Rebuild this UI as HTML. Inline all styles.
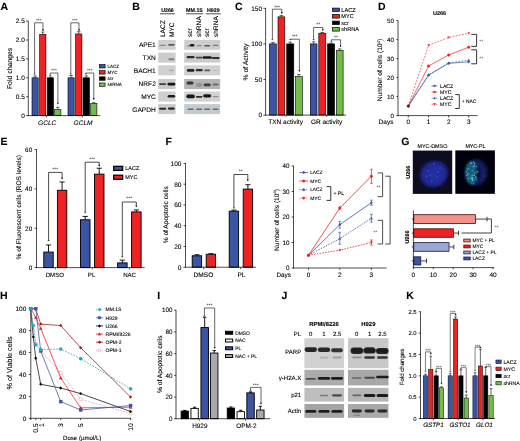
<!DOCTYPE html>
<html><head><meta charset="utf-8"><title>Figure</title>
<style>html,body{margin:0;padding:0;background:#fff}svg{display:block}text{font-family:"Liberation Sans",sans-serif;stroke:#000;stroke-width:0.1px;text-rendering:geometricPrecision}text.st{stroke:none}</style>
</head><body>
<svg width="520" height="441" viewBox="0 0 520 441">
<defs>
<filter id="soft" x="0" y="0" width="520" height="441" filterUnits="userSpaceOnUse"><feGaussianBlur stdDeviation="0.3"/></filter>
<filter id="b1" x="-30%" y="-80%" width="160%" height="260%"><feGaussianBlur stdDeviation="0.55"/></filter>
<filter id="b15" x="-30%" y="-80%" width="160%" height="260%"><feGaussianBlur stdDeviation="0.75"/></filter>
<filter id="b05" x="-50%" y="-50%" width="200%" height="200%"><feGaussianBlur stdDeviation="0.35"/></filter>
<filter id="b2" x="-20%" y="-20%" width="140%" height="140%"><feGaussianBlur stdDeviation="0.9"/></filter>
<filter id="bl" x="-5%" y="-5%" width="110%" height="110%"><feGaussianBlur stdDeviation="0.3"/></filter>
<radialGradient id="nuc1" cx="50%" cy="50%" r="50%"><stop offset="0" stop-color="#2630a6"/><stop offset="0.7" stop-color="#212a98"/><stop offset="1" stop-color="#171a66"/></radialGradient>
<radialGradient id="nuc2" cx="45%" cy="50%" r="50%"><stop offset="0" stop-color="#161f6e"/><stop offset="0.75" stop-color="#141b60"/><stop offset="1" stop-color="#0a0e38"/></radialGradient>
</defs>
<rect width="520" height="441" fill="#fff"/>
<g filter="url(#soft)">
<text x="0.40" y="9.60" font-size="10.5" font-weight="bold" fill="#000" >A</text>
<line x1="35.10" y1="75.91" x2="35.10" y2="77.80" stroke="#000" stroke-width="0.6" />
<line x1="33.30" y1="75.91" x2="36.90" y2="75.91" stroke="#000" stroke-width="0.6" />
<rect x="32.00" y="77.80" width="6.20" height="37.80" fill="#3b54a4" stroke="#000" stroke-width="0.6" />
<line x1="42.80" y1="32.06" x2="42.80" y2="34.33" stroke="#000" stroke-width="0.6" />
<line x1="41.00" y1="32.06" x2="44.60" y2="32.06" stroke="#000" stroke-width="0.6" />
<rect x="39.70" y="34.33" width="6.20" height="81.27" fill="#ed2024" stroke="#000" stroke-width="0.6" />
<line x1="50.40" y1="77.04" x2="50.40" y2="77.80" stroke="#000" stroke-width="0.6" />
<line x1="48.60" y1="77.04" x2="52.20" y2="77.04" stroke="#000" stroke-width="0.6" />
<rect x="47.30" y="77.80" width="6.20" height="37.80" fill="#000" stroke="#000" stroke-width="0.6" />
<line x1="57.80" y1="107.28" x2="57.80" y2="109.55" stroke="#000" stroke-width="0.6" />
<line x1="56.00" y1="107.28" x2="59.60" y2="107.28" stroke="#000" stroke-width="0.6" />
<rect x="54.70" y="109.55" width="6.20" height="6.05" fill="#6fbe44" stroke="#000" stroke-width="0.6" />
<line x1="71.10" y1="75.53" x2="71.10" y2="77.80" stroke="#000" stroke-width="0.6" />
<line x1="69.30" y1="75.53" x2="72.90" y2="75.53" stroke="#000" stroke-width="0.6" />
<rect x="68.00" y="77.80" width="6.20" height="37.80" fill="#3b54a4" stroke="#000" stroke-width="0.6" />
<line x1="78.75" y1="31.68" x2="78.75" y2="33.95" stroke="#000" stroke-width="0.6" />
<line x1="76.95" y1="31.68" x2="80.55" y2="31.68" stroke="#000" stroke-width="0.6" />
<rect x="75.60" y="33.95" width="6.30" height="81.65" fill="#ed2024" stroke="#000" stroke-width="0.6" />
<line x1="86.25" y1="75.91" x2="86.25" y2="77.80" stroke="#000" stroke-width="0.6" />
<line x1="84.45" y1="75.91" x2="88.05" y2="75.91" stroke="#000" stroke-width="0.6" />
<rect x="83.00" y="77.80" width="6.50" height="37.80" fill="#000" stroke="#000" stroke-width="0.6" />
<line x1="93.80" y1="102.75" x2="93.80" y2="103.50" stroke="#000" stroke-width="0.6" />
<line x1="92.00" y1="102.75" x2="95.60" y2="102.75" stroke="#000" stroke-width="0.6" />
<rect x="90.70" y="103.50" width="6.20" height="12.10" fill="#6fbe44" stroke="#000" stroke-width="0.6" />
<line x1="27.95" y1="115.60" x2="100.20" y2="115.60" stroke="#000" stroke-width="0.7" />
<line x1="28.30" y1="20.80" x2="28.30" y2="115.95" stroke="#000" stroke-width="0.7" />
<line x1="26.10" y1="115.60" x2="28.30" y2="115.60" stroke="#000" stroke-width="0.7" />
<text x="24.80" y="117.94" font-size="6.5" text-anchor="end" fill="#000" >0</text>
<line x1="26.10" y1="96.70" x2="28.30" y2="96.70" stroke="#000" stroke-width="0.7" />
<text x="24.80" y="99.04" font-size="6.5" text-anchor="end" fill="#000" >0.5</text>
<line x1="26.10" y1="77.80" x2="28.30" y2="77.80" stroke="#000" stroke-width="0.7" />
<text x="24.80" y="80.14" font-size="6.5" text-anchor="end" fill="#000" >1.0</text>
<line x1="26.10" y1="58.90" x2="28.30" y2="58.90" stroke="#000" stroke-width="0.7" />
<text x="24.80" y="61.24" font-size="6.5" text-anchor="end" fill="#000" >1.5</text>
<line x1="26.10" y1="40.00" x2="28.30" y2="40.00" stroke="#000" stroke-width="0.7" />
<text x="24.80" y="42.34" font-size="6.5" text-anchor="end" fill="#000" >2.0</text>
<line x1="26.10" y1="21.10" x2="28.30" y2="21.10" stroke="#000" stroke-width="0.7" />
<text x="24.80" y="23.44" font-size="6.5" text-anchor="end" fill="#000" >2.5</text>
<text x="12.50" y="68.40" font-size="6.9" text-anchor="middle" fill="#000" transform="rotate(-90 12.50 68.40)" >Fold changes</text>
<text x="47.20" y="124.80" font-size="6.6" text-anchor="middle" font-style="italic" fill="#000" >GCLC</text>
<line x1="46.50" y1="115.60" x2="46.50" y2="117.30" stroke="#000" stroke-width="0.7" />
<line x1="82.50" y1="115.60" x2="82.50" y2="117.30" stroke="#000" stroke-width="0.7" />
<text x="83.10" y="124.80" font-size="6.6" text-anchor="middle" font-style="italic" fill="#000" >GCLM</text>
<polyline points="34.60,74.02 34.60,22.80 43.00,22.80 43.00,30.93" fill="none" stroke="#000" stroke-width="0.6" stroke-linejoin="round"/>
<polygon points="42.10,29.33 43.90,29.33 43.00,30.93" fill="#000"/>
<line x1="33.70" y1="74.02" x2="35.50" y2="74.02" stroke="#000" stroke-width="0.6" />
<text x="38.80" y="21.80" font-size="4.8" text-anchor="middle" fill="#111" class="st">***</text>
<polyline points="50.20,75.53 50.20,73.00 57.90,73.00 57.90,104.26" fill="none" stroke="#000" stroke-width="0.6" stroke-linejoin="round"/>
<polygon points="57.00,102.66 58.80,102.66 57.90,104.26" fill="#000"/>
<line x1="49.30" y1="75.53" x2="51.10" y2="75.53" stroke="#000" stroke-width="0.6" />
<text x="54.05" y="71.70" font-size="4.8" text-anchor="middle" fill="#111" class="st">***</text>
<polyline points="70.80,74.02 70.80,22.80 79.00,22.80 79.00,30.93" fill="none" stroke="#000" stroke-width="0.6" stroke-linejoin="round"/>
<polygon points="78.10,29.33 79.90,29.33 79.00,30.93" fill="#000"/>
<line x1="69.90" y1="74.02" x2="71.70" y2="74.02" stroke="#000" stroke-width="0.6" />
<text x="74.90" y="21.80" font-size="4.8" text-anchor="middle" fill="#111" class="st">***</text>
<polyline points="85.80,74.02 85.80,73.00 93.80,73.00 93.80,99.72" fill="none" stroke="#000" stroke-width="0.6" stroke-linejoin="round"/>
<polygon points="92.90,98.12 94.70,98.12 93.80,99.72" fill="#000"/>
<line x1="84.90" y1="74.02" x2="86.70" y2="74.02" stroke="#000" stroke-width="0.6" />
<text x="89.80" y="71.70" font-size="4.8" text-anchor="middle" fill="#111" class="st">***</text>
<rect x="99.40" y="64.50" width="5.70" height="3.50" fill="#3b54a4" stroke="#000" stroke-width="0.6" />
<text x="107.60" y="67.87" font-size="4.5" fill="#000" >LACZ</text>
<rect x="99.40" y="70.65" width="5.70" height="3.50" fill="#ed2024" stroke="#000" stroke-width="0.6" />
<text x="107.60" y="74.02" font-size="4.5" fill="#000" >MYC</text>
<rect x="99.40" y="76.80" width="5.70" height="3.50" fill="#000" stroke="#000" stroke-width="0.6" />
<text x="107.60" y="80.17" font-size="4.5" fill="#000" >scr</text>
<rect x="99.40" y="82.95" width="5.70" height="3.50" fill="#6fbe44" stroke="#000" stroke-width="0.6" />
<text x="107.60" y="86.32" font-size="4.5" fill="#000" >shRNA</text>
<text x="132.20" y="9.60" font-size="10.5" font-weight="bold" fill="#000" >B</text>
<text x="167.50" y="11.60" font-size="5.3" text-anchor="middle" font-weight="bold" fill="#000" >U266</text>
<line x1="160.00" y1="13.80" x2="174.90" y2="13.80" stroke="#000" stroke-width="0.7" />
<text x="194.50" y="11.60" font-size="5.3" text-anchor="middle" font-weight="bold" fill="#000" >MM.1S</text>
<line x1="186.00" y1="13.80" x2="203.20" y2="13.80" stroke="#000" stroke-width="0.7" />
<text x="213.30" y="11.60" font-size="5.3" text-anchor="middle" font-weight="bold" fill="#000" >H929</text>
<line x1="205.70" y1="13.80" x2="220.80" y2="13.80" stroke="#000" stroke-width="0.7" />
<text x="165.40" y="37.10" font-size="6.6" fill="#000" transform="rotate(-90 165.40 37.10)" >LACZ</text>
<text x="174.30" y="37.10" font-size="6.6" fill="#000" transform="rotate(-90 174.30 37.10)" >MYC</text>
<text x="191.60" y="37.10" font-size="6.6" fill="#000" transform="rotate(-90 191.60 37.10)" >scr</text>
<text x="200.80" y="37.10" font-size="6.6" fill="#000" transform="rotate(-90 200.80 37.10)" >shRNA</text>
<text x="208.60" y="37.10" font-size="6.6" fill="#000" transform="rotate(-90 208.60 37.10)" >scr</text>
<text x="218.50" y="37.10" font-size="6.6" fill="#000" transform="rotate(-90 218.50 37.10)" >shRNA</text>
<text x="155.80" y="47.30" font-size="6.6" text-anchor="end" fill="#000" >APE1</text>
<text x="155.80" y="60.00" font-size="6.6" text-anchor="end" fill="#000" >TXN</text>
<text x="155.80" y="72.75" font-size="6.6" text-anchor="end" fill="#000" >BACH1</text>
<text x="155.80" y="86.45" font-size="6.6" text-anchor="end" fill="#000" >NRF2</text>
<text x="155.80" y="98.95" font-size="6.6" text-anchor="end" fill="#000" >MYC</text>
<text x="155.80" y="111.50" font-size="6.6" text-anchor="end" fill="#000" >GAPDH</text>
<g filter="url(#bl)">
<rect x="158.20" y="40.00" width="17.40" height="9.80" fill="#cfcfcf" />
<rect x="184.20" y="40.00" width="36.00" height="9.80" fill="#cdcdcd" />
<rect x="158.20" y="52.60" width="17.40" height="10.00" fill="#cdcdcd" />
<rect x="184.20" y="52.60" width="36.00" height="10.00" fill="#cbcbcb" />
<rect x="158.20" y="65.30" width="17.40" height="10.10" fill="#d0d0d0" />
<rect x="184.20" y="65.30" width="36.00" height="10.10" fill="#d0d0d0" />
<rect x="158.20" y="79.00" width="17.40" height="10.10" fill="#c9c9c9" />
<rect x="184.20" y="79.00" width="36.00" height="10.10" fill="#b4b4b6" />
<rect x="158.20" y="91.50" width="17.40" height="10.10" fill="#cfcfcf" />
<rect x="184.20" y="91.50" width="36.00" height="10.10" fill="#d2d2d2" />
<rect x="158.20" y="104.10" width="17.40" height="10.00" fill="#cbcbcb" />
<rect x="184.20" y="104.10" width="36.00" height="10.00" fill="#c4cbd0" />
</g>
<rect x="159.35" y="44.65" width="6.50" height="1.30" rx="0.65" fill="#0a0a0a" opacity="0.35" filter="url(#b1)"/>
<rect x="168.15" y="43.90" width="6.50" height="1.80" rx="0.90" fill="#0a0a0a" opacity="0.6" filter="url(#b1)"/>
<rect x="189.85" y="44.00" width="4.50" height="2.40" rx="1.20" fill="#0a0a0a" opacity="0.9" filter="url(#b1)"/>
<rect x="187.10" y="45.20" width="3.00" height="1.20" rx="0.60" fill="#0a0a0a" opacity="0.4" filter="url(#b1)"/>
<rect x="196.70" y="44.95" width="5.00" height="1.30" rx="0.65" fill="#0a0a0a" opacity="0.35" filter="url(#b1)"/>
<rect x="204.20" y="45.00" width="6.00" height="1.60" rx="0.80" fill="#0a0a0a" opacity="0.6" filter="url(#b1)"/>
<rect x="212.85" y="44.75" width="5.50" height="1.30" rx="0.65" fill="#0a0a0a" opacity="0.45" filter="url(#b1)"/>
<rect x="168.40" y="58.30" width="6.00" height="2.00" rx="1.00" fill="#0a0a0a" opacity="0.4" filter="url(#b1)"/>
<rect x="186.60" y="56.10" width="8.00" height="2.20" rx="1.10" fill="#0a0a0a" opacity="0.85" filter="url(#b1)"/>
<rect x="195.70" y="56.80" width="7.00" height="1.60" rx="0.80" fill="#0a0a0a" opacity="0.7" filter="url(#b1)"/>
<rect x="202.70" y="56.30" width="9.00" height="2.40" rx="1.20" fill="#0a0a0a" opacity="0.95" filter="url(#b1)"/>
<rect x="211.60" y="57.10" width="8.00" height="1.80" rx="0.90" fill="#0a0a0a" opacity="0.8" filter="url(#b1)"/>
<rect x="168.90" y="69.70" width="5.00" height="1.20" rx="0.60" fill="#0a0a0a" opacity="0.2" filter="url(#b1)"/>
<rect x="186.85" y="69.10" width="7.50" height="2.60" rx="1.30" fill="#0a0a0a" opacity="0.9" filter="url(#b1)"/>
<rect x="195.70" y="69.10" width="7.00" height="2.20" rx="1.10" fill="#0a0a0a" opacity="0.85" filter="url(#b1)"/>
<rect x="204.20" y="69.60" width="6.00" height="1.60" rx="0.80" fill="#0a0a0a" opacity="0.6" filter="url(#b1)"/>
<rect x="213.60" y="69.90" width="4.00" height="1.20" rx="0.60" fill="#0a0a0a" opacity="0.12" filter="url(#b1)"/>
<rect x="159.10" y="83.30" width="7.00" height="1.60" rx="0.80" fill="#0a0a0a" opacity="0.75" filter="url(#b1)"/>
<rect x="167.40" y="82.70" width="8.00" height="2.80" rx="1.40" fill="#0a0a0a" opacity="0.95" filter="url(#b1)"/>
<rect x="186.50" y="81.40" width="7.00" height="3.20" rx="1.60" fill="#0a0a0a" opacity="0.75" filter="url(#b1)"/>
<rect x="195.95" y="83.00" width="6.50" height="4.00" rx="2.00" fill="#0a0a0a" opacity="0.18" filter="url(#b1)"/>
<rect x="203.70" y="83.60" width="7.00" height="2.60" rx="1.30" fill="#0a0a0a" opacity="0.7" filter="url(#b1)"/>
<rect x="212.60" y="83.40" width="6.00" height="2.20" rx="1.10" fill="#0a0a0a" opacity="0.42" filter="url(#b1)"/>
<rect x="167.65" y="95.00" width="7.50" height="2.60" rx="1.30" fill="#0a0a0a" opacity="0.9" filter="url(#b1)"/>
<rect x="186.35" y="94.60" width="8.50" height="3.60" rx="1.80" fill="#0a0a0a" opacity="0.95" filter="url(#b1)"/>
<rect x="195.95" y="95.90" width="6.50" height="1.80" rx="0.90" fill="#0a0a0a" opacity="0.85" filter="url(#b1)"/>
<rect x="203.20" y="94.20" width="8.00" height="3.20" rx="1.60" fill="#0a0a0a" opacity="0.95" filter="url(#b1)"/>
<rect x="212.60" y="96.00" width="6.00" height="1.20" rx="0.60" fill="#0a0a0a" opacity="0.3" filter="url(#b1)"/>
<rect x="159.10" y="107.80" width="7.00" height="2.00" rx="1.00" fill="#0a0a0a" opacity="0.85" filter="url(#b1)"/>
<rect x="167.90" y="107.50" width="7.00" height="2.20" rx="1.10" fill="#0a0a0a" opacity="0.85" filter="url(#b1)"/>
<rect x="187.60" y="108.50" width="6.00" height="1.60" rx="0.80" fill="#0a0a0a" opacity="0.5" filter="url(#b1)"/>
<rect x="196.20" y="108.50" width="6.00" height="1.60" rx="0.80" fill="#0a0a0a" opacity="0.5" filter="url(#b1)"/>
<rect x="204.20" y="108.50" width="6.00" height="1.60" rx="0.80" fill="#0a0a0a" opacity="0.5" filter="url(#b1)"/>
<rect x="212.60" y="108.50" width="6.00" height="1.60" rx="0.80" fill="#0a0a0a" opacity="0.5" filter="url(#b1)"/>
<text x="235.00" y="9.60" font-size="10.5" font-weight="bold" fill="#000" >C</text>
<line x1="272.90" y1="42.48" x2="272.90" y2="43.90" stroke="#000" stroke-width="0.6" />
<line x1="271.10" y1="42.48" x2="274.70" y2="42.48" stroke="#000" stroke-width="0.6" />
<rect x="269.50" y="43.90" width="6.80" height="71.20" fill="#3b54a4" stroke="#000" stroke-width="0.6" />
<line x1="281.40" y1="15.42" x2="281.40" y2="16.84" stroke="#000" stroke-width="0.6" />
<line x1="279.60" y1="15.42" x2="283.20" y2="15.42" stroke="#000" stroke-width="0.6" />
<rect x="278.00" y="16.84" width="6.80" height="98.26" fill="#ed2024" stroke="#000" stroke-width="0.6" />
<line x1="290.25" y1="42.12" x2="290.25" y2="43.90" stroke="#000" stroke-width="0.6" />
<line x1="288.45" y1="42.12" x2="292.05" y2="42.12" stroke="#000" stroke-width="0.6" />
<rect x="286.70" y="43.90" width="7.10" height="71.20" fill="#000" stroke="#000" stroke-width="0.6" />
<line x1="298.90" y1="74.52" x2="298.90" y2="76.65" stroke="#000" stroke-width="0.6" />
<line x1="297.10" y1="74.52" x2="300.70" y2="74.52" stroke="#000" stroke-width="0.6" />
<rect x="295.50" y="76.65" width="6.80" height="38.45" fill="#6fbe44" stroke="#000" stroke-width="0.6" />
<line x1="313.65" y1="41.76" x2="313.65" y2="43.90" stroke="#000" stroke-width="0.6" />
<line x1="311.85" y1="41.76" x2="315.45" y2="41.76" stroke="#000" stroke-width="0.6" />
<rect x="310.30" y="43.90" width="6.70" height="71.20" fill="#3b54a4" stroke="#000" stroke-width="0.6" />
<line x1="322.30" y1="32.51" x2="322.30" y2="33.22" stroke="#000" stroke-width="0.6" />
<line x1="320.50" y1="32.51" x2="324.10" y2="32.51" stroke="#000" stroke-width="0.6" />
<rect x="318.80" y="33.22" width="7.00" height="81.88" fill="#ed2024" stroke="#000" stroke-width="0.6" />
<line x1="331.05" y1="43.19" x2="331.05" y2="43.90" stroke="#000" stroke-width="0.6" />
<line x1="329.25" y1="43.19" x2="332.85" y2="43.19" stroke="#000" stroke-width="0.6" />
<rect x="327.50" y="43.90" width="7.10" height="71.20" fill="#000" stroke="#000" stroke-width="0.6" />
<line x1="339.70" y1="48.88" x2="339.70" y2="50.31" stroke="#000" stroke-width="0.6" />
<line x1="337.90" y1="48.88" x2="341.50" y2="48.88" stroke="#000" stroke-width="0.6" />
<rect x="336.30" y="50.31" width="6.80" height="64.79" fill="#6fbe44" stroke="#000" stroke-width="0.6" />
<line x1="265.25" y1="115.10" x2="346.00" y2="115.10" stroke="#000" stroke-width="0.7" />
<line x1="265.60" y1="8.00" x2="265.60" y2="115.45" stroke="#000" stroke-width="0.7" />
<line x1="263.40" y1="115.10" x2="265.60" y2="115.10" stroke="#000" stroke-width="0.7" />
<text x="262.10" y="117.44" font-size="6.5" text-anchor="end" fill="#000" >0</text>
<line x1="263.40" y1="79.50" x2="265.60" y2="79.50" stroke="#000" stroke-width="0.7" />
<text x="262.10" y="81.84" font-size="6.5" text-anchor="end" fill="#000" >50</text>
<line x1="263.40" y1="43.90" x2="265.60" y2="43.90" stroke="#000" stroke-width="0.7" />
<text x="262.10" y="46.24" font-size="6.5" text-anchor="end" fill="#000" >100</text>
<line x1="263.40" y1="8.30" x2="265.60" y2="8.30" stroke="#000" stroke-width="0.7" />
<text x="262.10" y="10.64" font-size="6.5" text-anchor="end" fill="#000" >150</text>
<text x="248.40" y="62.00" font-size="6.85" text-anchor="middle" fill="#000" transform="rotate(-90 248.40 62.00)" >% of Activity</text>
<text x="285.60" y="124.40" font-size="6.5" text-anchor="middle" fill="#000" >TXN activity</text>
<line x1="285.90" y1="115.10" x2="285.90" y2="116.80" stroke="#000" stroke-width="0.7" />
<line x1="326.70" y1="115.10" x2="326.70" y2="116.80" stroke="#000" stroke-width="0.7" />
<text x="326.60" y="124.40" font-size="6.5" text-anchor="middle" fill="#000" >GR activity</text>
<polyline points="272.40,39.63 272.40,9.20 281.80,9.20 281.80,13.64" fill="none" stroke="#000" stroke-width="0.6" stroke-linejoin="round"/>
<polygon points="280.90,12.04 282.70,12.04 281.80,13.64" fill="#000"/>
<line x1="271.50" y1="39.63" x2="273.30" y2="39.63" stroke="#000" stroke-width="0.6" />
<text x="277.10" y="8.50" font-size="5" text-anchor="middle" fill="#111" class="st">***</text>
<polyline points="290.20,39.63 290.20,39.20 299.40,39.20 299.40,71.67" fill="none" stroke="#000" stroke-width="0.6" stroke-linejoin="round"/>
<polygon points="298.50,70.07 300.30,70.07 299.40,71.67" fill="#000"/>
<line x1="289.30" y1="39.63" x2="291.10" y2="39.63" stroke="#000" stroke-width="0.6" />
<text x="294.80" y="37.60" font-size="5" text-anchor="middle" fill="#111" class="st">***</text>
<polyline points="313.60,39.63 313.60,27.50 322.80,27.50 322.80,30.73" fill="none" stroke="#000" stroke-width="0.6" stroke-linejoin="round"/>
<polygon points="321.90,29.13 323.70,29.13 322.80,30.73" fill="#000"/>
<line x1="312.70" y1="39.63" x2="314.50" y2="39.63" stroke="#000" stroke-width="0.6" />
<text x="318.20" y="26.10" font-size="5" text-anchor="middle" fill="#111" class="st">**</text>
<polyline points="331.40,41.76 331.40,39.80 340.60,39.80 340.60,47.10" fill="none" stroke="#000" stroke-width="0.6" stroke-linejoin="round"/>
<polygon points="339.70,45.50 341.50,45.50 340.60,47.10" fill="#000"/>
<line x1="330.50" y1="41.76" x2="332.30" y2="41.76" stroke="#000" stroke-width="0.6" />
<text x="336.00" y="39.00" font-size="5" text-anchor="middle" fill="#111" class="st">**</text>
<rect x="332.50" y="8.10" width="6.90" height="3.50" fill="#3b54a4" stroke="#000" stroke-width="0.7" />
<text x="341.30" y="11.87" font-size="5.6" fill="#000" >LACZ</text>
<rect x="332.50" y="14.60" width="6.90" height="3.50" fill="#ed2024" stroke="#000" stroke-width="0.7" />
<text x="341.30" y="18.37" font-size="5.6" fill="#000" >MYC</text>
<rect x="332.50" y="21.10" width="6.90" height="3.50" fill="#000" stroke="#000" stroke-width="0.7" />
<text x="341.30" y="24.87" font-size="5.6" fill="#000" >scr</text>
<rect x="332.50" y="27.60" width="6.90" height="3.50" fill="#6fbe44" stroke="#000" stroke-width="0.7" />
<text x="341.30" y="31.37" font-size="5.6" fill="#000" >shRNA</text>
<text x="378.00" y="9.60" font-size="10.5" font-weight="bold" fill="#000" >D</text>
<text x="439.50" y="14.50" font-size="5.5" text-anchor="middle" font-weight="bold" fill="#000" >U266</text>
<line x1="397.65" y1="115.60" x2="477.60" y2="115.60" stroke="#000" stroke-width="0.7" />
<line x1="408.30" y1="115.60" x2="408.30" y2="117.50" stroke="#000" stroke-width="0.7" />
<text x="408.30" y="124.10" font-size="6.4" text-anchor="middle" fill="#000" >0</text>
<line x1="428.60" y1="115.60" x2="428.60" y2="117.50" stroke="#000" stroke-width="0.7" />
<text x="428.60" y="124.10" font-size="6.4" text-anchor="middle" fill="#000" >1</text>
<line x1="448.70" y1="115.60" x2="448.70" y2="117.50" stroke="#000" stroke-width="0.7" />
<text x="448.70" y="124.10" font-size="6.4" text-anchor="middle" fill="#000" >2</text>
<line x1="468.70" y1="115.60" x2="468.70" y2="117.50" stroke="#000" stroke-width="0.7" />
<text x="468.70" y="124.10" font-size="6.4" text-anchor="middle" fill="#000" >3</text>
<text x="378.60" y="124.10" font-size="6.5" fill="#000" >Days</text>
<line x1="398.00" y1="20.30" x2="398.00" y2="115.95" stroke="#000" stroke-width="0.7" />
<line x1="396.40" y1="115.60" x2="398.00" y2="115.60" stroke="#000" stroke-width="0.7" />
<text x="393.90" y="117.83" font-size="6.2" text-anchor="end" fill="#000" >0</text>
<line x1="396.40" y1="96.60" x2="398.00" y2="96.60" stroke="#000" stroke-width="0.7" />
<text x="393.90" y="98.83" font-size="6.2" text-anchor="end" fill="#000" >10</text>
<line x1="396.40" y1="77.60" x2="398.00" y2="77.60" stroke="#000" stroke-width="0.7" />
<text x="393.90" y="79.83" font-size="6.2" text-anchor="end" fill="#000" >20</text>
<line x1="396.40" y1="58.60" x2="398.00" y2="58.60" stroke="#000" stroke-width="0.7" />
<text x="393.90" y="60.83" font-size="6.2" text-anchor="end" fill="#000" >30</text>
<line x1="396.40" y1="39.60" x2="398.00" y2="39.60" stroke="#000" stroke-width="0.7" />
<text x="393.90" y="41.83" font-size="6.2" text-anchor="end" fill="#000" >40</text>
<line x1="396.40" y1="20.60" x2="398.00" y2="20.60" stroke="#000" stroke-width="0.7" />
<text x="393.90" y="22.83" font-size="6.2" text-anchor="end" fill="#000" >50</text>
<text x="382.3" y="70" font-size="6.7" text-anchor="middle" fill="#000" transform="rotate(-90 382.3 70)">Number of cells (10<tspan font-size="4.2" dy="-2.3">4</tspan><tspan dy="2.3">)</tspan></text>
<polyline points="408.30,106.10 428.60,45.30 448.70,37.51 468.70,33.14" fill="none" stroke="#ed2024" stroke-width="0.65" stroke-dasharray="1.8 1.4" stroke-linejoin="round"/>
<polygon points="408.30,107.18 409.34,105.29 407.26,105.29" fill="#ed2024" stroke="#ed2024" stroke-width="0.3"/>
<polygon points="428.60,46.38 429.64,44.49 427.56,44.49" fill="#ed2024" stroke="#ed2024" stroke-width="0.3"/>
<polygon points="448.70,38.59 449.74,36.70 447.66,36.70" fill="#ed2024" stroke="#ed2024" stroke-width="0.3"/>
<polygon points="468.70,34.22 469.74,32.33 467.66,32.33" fill="#ed2024" stroke="#ed2024" stroke-width="0.3"/>
<polyline points="408.30,106.10 428.60,74.75 448.70,62.97 468.70,60.12" fill="none" stroke="#3b54a4" stroke-width="0.65" stroke-dasharray="1.8 1.4" stroke-linejoin="round"/>
<polygon points="408.30,104.96 409.39,106.95 407.21,106.95" fill="#3b54a4" stroke="#3b54a4" stroke-width="0.3"/>
<polygon points="428.60,73.61 429.69,75.61 427.51,75.61" fill="#3b54a4" stroke="#3b54a4" stroke-width="0.3"/>
<polygon points="448.70,61.83 449.79,63.82 447.61,63.82" fill="#3b54a4" stroke="#3b54a4" stroke-width="0.3"/>
<polygon points="468.70,58.98 469.79,60.97 467.61,60.97" fill="#3b54a4" stroke="#3b54a4" stroke-width="0.3"/>
<polyline points="408.30,106.10 428.60,75.13 448.70,63.35 468.70,61.83" fill="none" stroke="#3b54a4" stroke-width="0.7" stroke-linejoin="round"/>
<polygon points="408.30,104.66 409.74,106.10 408.30,107.54 406.86,106.10" fill="#3b54a4" stroke="#3b54a4" stroke-width="0.3"/>
<polygon points="428.60,73.69 430.04,75.13 428.60,76.57 427.16,75.13" fill="#3b54a4" stroke="#3b54a4" stroke-width="0.3"/>
<polygon points="448.70,61.91 450.14,63.35 448.70,64.79 447.26,63.35" fill="#3b54a4" stroke="#3b54a4" stroke-width="0.3"/>
<polygon points="468.70,60.39 470.14,61.83 468.70,63.27 467.26,61.83" fill="#3b54a4" stroke="#3b54a4" stroke-width="0.3"/>
<polyline points="408.30,106.10 428.60,66.01 448.70,54.99 468.70,47.20" fill="none" stroke="#ed2024" stroke-width="0.7" stroke-linejoin="round"/>
<circle cx="408.30" cy="106.10" r="1.30" fill="#ed2024" stroke="#ed2024" stroke-width="0.4"/>
<circle cx="428.60" cy="66.01" r="1.30" fill="#ed2024" stroke="#ed2024" stroke-width="0.4"/>
<circle cx="448.70" cy="54.99" r="1.30" fill="#ed2024" stroke="#ed2024" stroke-width="0.4"/>
<circle cx="468.70" cy="47.20" r="1.30" fill="#ed2024" stroke="#ed2024" stroke-width="0.4"/>
<polygon points="408.30,104.90 409.50,106.10 408.30,107.30 407.10,106.10" fill="#222" stroke="#222" stroke-width="0.3"/>
<polyline points="471.20,34.40 476.60,34.40 476.60,46.40 471.20,46.40" fill="none" stroke="#222" stroke-width="0.9" stroke-linejoin="round"/>
<polyline points="471.20,49.80 476.60,49.80 476.60,63.80 471.20,63.80" fill="none" stroke="#222" stroke-width="0.9" stroke-linejoin="round"/>
<text x="481.20" y="42.90" font-size="5" text-anchor="middle" fill="#444" class="st">**</text>
<text x="481.20" y="59.90" font-size="5" text-anchor="middle" fill="#444" class="st">**</text>
<line x1="431.60" y1="85.90" x2="437.40" y2="85.90" stroke="#3b54a4" stroke-width="0.7" />
<polygon points="434.50,84.70 435.70,85.90 434.50,87.10 433.30,85.90" fill="#3b54a4" stroke="#3b54a4" stroke-width="0.3"/>
<text x="440.00" y="87.75" font-size="5.2" fill="#000" >LACZ</text>
<line x1="431.60" y1="92.02" x2="437.40" y2="92.02" stroke="#ed2024" stroke-width="0.7" />
<circle cx="434.50" cy="92.02" r="1.00" fill="#ed2024" stroke="#ed2024" stroke-width="0.4"/>
<text x="440.00" y="93.87" font-size="5.2" fill="#000" >MYC</text>
<line x1="431.60" y1="98.14" x2="437.40" y2="98.14" stroke="#3b54a4" stroke-width="0.7" stroke-dasharray="1.2 1" />
<polygon points="434.50,96.94 435.65,99.04 433.35,99.04" fill="#3b54a4" stroke="#3b54a4" stroke-width="0.3"/>
<text x="440.00" y="99.99" font-size="5.2" fill="#000" >LACZ</text>
<line x1="431.60" y1="104.26" x2="437.40" y2="104.26" stroke="#ed2024" stroke-width="0.7" stroke-dasharray="1.2 1" />
<polygon points="434.50,105.46 435.65,103.36 433.35,103.36" fill="#ed2024" stroke="#ed2024" stroke-width="0.3"/>
<text x="440.00" y="106.11" font-size="5.2" fill="#000" >MYC</text>
<polyline points="455.20,94.60 459.30,94.60 459.30,108.50 455.20,108.50" fill="none" stroke="#222" stroke-width="0.9" stroke-linejoin="round"/>
<text x="461.80" y="103.20" font-size="4.9" fill="#000" >+ NAC</text>
<text x="0.40" y="144.90" font-size="10.5" font-weight="bold" fill="#000" >E</text>
<line x1="48.50" y1="244.97" x2="48.50" y2="252.05" stroke="#000" stroke-width="0.9" />
<line x1="45.90" y1="244.97" x2="51.10" y2="244.97" stroke="#000" stroke-width="0.9" />
<rect x="43.80" y="252.05" width="9.40" height="15.55" fill="#3b54a4" stroke="#000" stroke-width="0.9" />
<line x1="62.10" y1="181.99" x2="62.10" y2="190.26" stroke="#000" stroke-width="0.9" />
<line x1="59.50" y1="181.99" x2="64.70" y2="181.99" stroke="#000" stroke-width="0.9" />
<rect x="57.40" y="190.26" width="9.40" height="77.34" fill="#ed2024" stroke="#000" stroke-width="0.9" />
<line x1="85.25" y1="216.43" x2="85.25" y2="219.78" stroke="#000" stroke-width="0.9" />
<line x1="82.65" y1="216.43" x2="87.85" y2="216.43" stroke="#000" stroke-width="0.9" />
<rect x="80.50" y="219.78" width="9.50" height="47.82" fill="#3b54a4" stroke="#000" stroke-width="0.9" />
<line x1="99.25" y1="168.22" x2="99.25" y2="174.12" stroke="#000" stroke-width="0.9" />
<line x1="96.65" y1="168.22" x2="101.85" y2="168.22" stroke="#000" stroke-width="0.9" />
<rect x="94.50" y="174.12" width="9.50" height="93.48" fill="#ed2024" stroke="#000" stroke-width="0.9" />
<line x1="122.35" y1="260.12" x2="122.35" y2="262.88" stroke="#000" stroke-width="0.9" />
<line x1="119.75" y1="260.12" x2="124.95" y2="260.12" stroke="#000" stroke-width="0.9" />
<rect x="117.60" y="262.88" width="9.50" height="4.72" fill="#3b54a4" stroke="#000" stroke-width="0.9" />
<line x1="136.35" y1="209.94" x2="136.35" y2="211.91" stroke="#000" stroke-width="0.9" />
<line x1="133.75" y1="209.94" x2="138.95" y2="209.94" stroke="#000" stroke-width="0.9" />
<rect x="131.60" y="211.91" width="9.50" height="55.69" fill="#ed2024" stroke="#000" stroke-width="0.9" />
<line x1="36.15" y1="267.60" x2="144.70" y2="267.60" stroke="#000" stroke-width="0.7" />
<line x1="36.50" y1="149.22" x2="36.50" y2="267.95" stroke="#000" stroke-width="0.7" />
<line x1="34.50" y1="267.60" x2="36.50" y2="267.60" stroke="#000" stroke-width="0.7" />
<text x="32.20" y="269.90" font-size="6.4" text-anchor="end" fill="#000" >0</text>
<line x1="34.50" y1="228.24" x2="36.50" y2="228.24" stroke="#000" stroke-width="0.7" />
<text x="32.20" y="230.54" font-size="6.4" text-anchor="end" fill="#000" >20</text>
<line x1="34.50" y1="188.88" x2="36.50" y2="188.88" stroke="#000" stroke-width="0.7" />
<text x="32.20" y="191.18" font-size="6.4" text-anchor="end" fill="#000" >40</text>
<line x1="34.50" y1="149.52" x2="36.50" y2="149.52" stroke="#000" stroke-width="0.7" />
<text x="32.20" y="151.82" font-size="6.4" text-anchor="end" fill="#000" >60</text>
<line x1="55.30" y1="267.60" x2="55.30" y2="269.30" stroke="#000" stroke-width="0.7" />
<line x1="92.30" y1="267.60" x2="92.30" y2="269.30" stroke="#000" stroke-width="0.7" />
<line x1="129.40" y1="267.60" x2="129.40" y2="269.30" stroke="#000" stroke-width="0.7" />
<text x="20.80" y="207.20" font-size="6.65" text-anchor="middle" fill="#000" transform="rotate(-90 20.80 207.20)" >% of Fluorescent cells (ROS levels)</text>
<text x="54.80" y="277.40" font-size="6.1" text-anchor="middle" fill="#000" >DMSO</text>
<text x="91.60" y="277.40" font-size="6.1" text-anchor="middle" fill="#000" >PL</text>
<text x="129.60" y="277.40" font-size="6.1" text-anchor="middle" fill="#000" >NAC</text>
<polyline points="48.60,240.50 48.60,172.40 62.10,172.40 62.10,179.20" fill="none" stroke="#000" stroke-width="0.7" stroke-linejoin="round"/>
<polygon points="61.20,177.60 63.00,177.60 62.10,179.20" fill="#000"/>
<line x1="47.70" y1="240.50" x2="49.50" y2="240.50" stroke="#000" stroke-width="0.7" />
<text x="55.35" y="170.80" font-size="5.2" text-anchor="middle" fill="#111" class="st">***</text>
<polyline points="85.20,212.30 85.20,162.20 99.20,162.20 99.20,166.40" fill="none" stroke="#000" stroke-width="0.7" stroke-linejoin="round"/>
<polygon points="98.30,164.80 100.10,164.80 99.20,166.40" fill="#000"/>
<line x1="84.30" y1="212.30" x2="86.10" y2="212.30" stroke="#000" stroke-width="0.7" />
<text x="92.20" y="160.60" font-size="5.2" text-anchor="middle" fill="#111" class="st">***</text>
<polyline points="122.30,256.80 122.30,202.00 136.30,202.00 136.30,207.00" fill="none" stroke="#000" stroke-width="0.7" stroke-linejoin="round"/>
<polygon points="135.40,205.40 137.20,205.40 136.30,207.00" fill="#000"/>
<line x1="121.40" y1="256.80" x2="123.20" y2="256.80" stroke="#000" stroke-width="0.7" />
<text x="129.30" y="200.40" font-size="5.2" text-anchor="middle" fill="#111" class="st">***</text>
<rect x="113.70" y="166.30" width="9.00" height="4.10" fill="#3b54a4" stroke="#000" stroke-width="1.2" />
<text x="125.20" y="170.33" font-size="5.5" fill="#000" >LACZ</text>
<rect x="113.70" y="175.20" width="9.00" height="4.10" fill="#ed2024" stroke="#000" stroke-width="1.2" />
<text x="125.20" y="179.23" font-size="5.5" fill="#000" >MYC</text>
<text x="165.50" y="144.90" font-size="10.5" font-weight="bold" fill="#000" >F</text>
<line x1="196.90" y1="254.75" x2="196.90" y2="255.79" stroke="#000" stroke-width="0.9" />
<line x1="194.30" y1="254.75" x2="199.50" y2="254.75" stroke="#000" stroke-width="0.9" />
<rect x="192.20" y="255.79" width="9.40" height="11.41" fill="#3b54a4" stroke="#000" stroke-width="0.9" />
<line x1="210.90" y1="253.71" x2="210.90" y2="254.23" stroke="#000" stroke-width="0.9" />
<line x1="208.30" y1="253.71" x2="213.50" y2="253.71" stroke="#000" stroke-width="0.9" />
<rect x="206.20" y="254.23" width="9.40" height="12.97" fill="#ed2024" stroke="#000" stroke-width="0.9" />
<line x1="233.90" y1="210.14" x2="233.90" y2="211.17" stroke="#000" stroke-width="0.9" />
<line x1="231.30" y1="210.14" x2="236.50" y2="210.14" stroke="#000" stroke-width="0.9" />
<rect x="229.20" y="211.17" width="9.40" height="56.03" fill="#3b54a4" stroke="#000" stroke-width="0.9" />
<line x1="247.90" y1="184.72" x2="247.90" y2="189.08" stroke="#000" stroke-width="0.9" />
<line x1="245.30" y1="184.72" x2="250.50" y2="184.72" stroke="#000" stroke-width="0.9" />
<rect x="243.20" y="189.08" width="9.40" height="78.12" fill="#ed2024" stroke="#000" stroke-width="0.9" />
<line x1="185.15" y1="267.20" x2="256.00" y2="267.20" stroke="#000" stroke-width="0.7" />
<line x1="185.50" y1="163.15" x2="185.50" y2="267.55" stroke="#000" stroke-width="0.7" />
<line x1="183.50" y1="267.20" x2="185.50" y2="267.20" stroke="#000" stroke-width="0.7" />
<text x="181.50" y="269.58" font-size="6.6" text-anchor="end" fill="#000" >0</text>
<line x1="183.50" y1="246.45" x2="185.50" y2="246.45" stroke="#000" stroke-width="0.7" />
<text x="181.50" y="248.83" font-size="6.6" text-anchor="end" fill="#000" >20</text>
<line x1="183.50" y1="225.70" x2="185.50" y2="225.70" stroke="#000" stroke-width="0.7" />
<text x="181.50" y="228.08" font-size="6.6" text-anchor="end" fill="#000" >40</text>
<line x1="183.50" y1="204.95" x2="185.50" y2="204.95" stroke="#000" stroke-width="0.7" />
<text x="181.50" y="207.33" font-size="6.6" text-anchor="end" fill="#000" >60</text>
<line x1="183.50" y1="184.20" x2="185.50" y2="184.20" stroke="#000" stroke-width="0.7" />
<text x="181.50" y="186.58" font-size="6.6" text-anchor="end" fill="#000" >80</text>
<line x1="183.50" y1="163.45" x2="185.50" y2="163.45" stroke="#000" stroke-width="0.7" />
<text x="181.50" y="165.83" font-size="6.6" text-anchor="end" fill="#000" >100</text>
<line x1="203.70" y1="267.20" x2="203.70" y2="269.20" stroke="#000" stroke-width="0.7" />
<line x1="240.80" y1="267.20" x2="240.80" y2="269.20" stroke="#000" stroke-width="0.7" />
<text x="167.60" y="214.70" font-size="6.6" text-anchor="middle" fill="#000" transform="rotate(-90 167.60 214.70)" >% of Apoptotic cells</text>
<text x="203.40" y="277.00" font-size="6.6" text-anchor="middle" fill="#000" >DMSO</text>
<text x="241.40" y="277.00" font-size="6.5" text-anchor="middle" fill="#000" >PL</text>
<polyline points="233.90,208.00 233.90,174.50 247.80,174.50 247.80,181.00" fill="none" stroke="#000" stroke-width="0.7" stroke-linejoin="round"/>
<polygon points="246.90,179.40 248.70,179.40 247.80,181.00" fill="#000"/>
<line x1="233.00" y1="208.00" x2="234.80" y2="208.00" stroke="#000" stroke-width="0.7" />
<text x="240.85" y="172.90" font-size="5.2" text-anchor="middle" fill="#111" class="st">**</text>
<line x1="293.15" y1="268.00" x2="386.60" y2="268.00" stroke="#000" stroke-width="0.7" />
<line x1="308.50" y1="268.00" x2="308.50" y2="269.80" stroke="#000" stroke-width="0.7" />
<text x="308.50" y="277.00" font-size="6.4" text-anchor="middle" fill="#000" >0</text>
<line x1="339.80" y1="268.00" x2="339.80" y2="269.80" stroke="#000" stroke-width="0.7" />
<text x="339.80" y="277.00" font-size="6.4" text-anchor="middle" fill="#000" >2</text>
<line x1="371.40" y1="268.00" x2="371.40" y2="269.80" stroke="#000" stroke-width="0.7" />
<text x="371.40" y="277.00" font-size="6.4" text-anchor="middle" fill="#000" >3</text>
<text x="276.50" y="277.00" font-size="6.35" fill="#000" >Days</text>
<line x1="293.50" y1="165.70" x2="293.50" y2="268.35" stroke="#000" stroke-width="0.7" />
<line x1="291.70" y1="268.00" x2="293.50" y2="268.00" stroke="#000" stroke-width="0.7" />
<text x="289.50" y="270.27" font-size="6.3" text-anchor="end" fill="#000" >0</text>
<line x1="291.70" y1="242.50" x2="293.50" y2="242.50" stroke="#000" stroke-width="0.7" />
<text x="289.50" y="244.77" font-size="6.3" text-anchor="end" fill="#000" >10</text>
<line x1="291.70" y1="217.00" x2="293.50" y2="217.00" stroke="#000" stroke-width="0.7" />
<text x="289.50" y="219.27" font-size="6.3" text-anchor="end" fill="#000" >20</text>
<line x1="291.70" y1="191.50" x2="293.50" y2="191.50" stroke="#000" stroke-width="0.7" />
<text x="289.50" y="193.77" font-size="6.3" text-anchor="end" fill="#000" >30</text>
<line x1="291.70" y1="166.00" x2="293.50" y2="166.00" stroke="#000" stroke-width="0.7" />
<text x="289.50" y="168.27" font-size="6.3" text-anchor="end" fill="#000" >40</text>
<text x="278.6" y="220" font-size="6.65" text-anchor="middle" fill="#000" transform="rotate(-90 278.6 220)">Number of cells (10<tspan font-size="4.2" dy="-2.2">4</tspan><tspan dy="2.2">)</tspan></text>
<line x1="371.40" y1="169.31" x2="371.40" y2="183.34" stroke="#ed2024" stroke-width="0.7" />
<line x1="370.10" y1="169.31" x2="372.70" y2="169.31" stroke="#ed2024" stroke-width="0.7" />
<line x1="370.10" y1="183.34" x2="372.70" y2="183.34" stroke="#ed2024" stroke-width="0.7" />
<line x1="339.80" y1="206.80" x2="339.80" y2="209.35" stroke="#ed2024" stroke-width="0.7" />
<line x1="339.00" y1="206.80" x2="340.60" y2="206.80" stroke="#ed2024" stroke-width="0.7" />
<line x1="339.00" y1="209.35" x2="340.60" y2="209.35" stroke="#ed2024" stroke-width="0.7" />
<line x1="339.80" y1="221.34" x2="339.80" y2="228.22" stroke="#3b54a4" stroke-width="0.7" />
<line x1="338.50" y1="221.34" x2="341.10" y2="221.34" stroke="#3b54a4" stroke-width="0.7" />
<line x1="338.50" y1="228.22" x2="341.10" y2="228.22" stroke="#3b54a4" stroke-width="0.7" />
<line x1="371.40" y1="200.17" x2="371.40" y2="205.27" stroke="#3b54a4" stroke-width="0.7" />
<line x1="370.10" y1="200.17" x2="372.70" y2="200.17" stroke="#3b54a4" stroke-width="0.7" />
<line x1="370.10" y1="205.27" x2="372.70" y2="205.27" stroke="#3b54a4" stroke-width="0.7" />
<line x1="339.80" y1="232.30" x2="339.80" y2="244.28" stroke="#3b54a4" stroke-width="0.7" />
<line x1="338.50" y1="232.30" x2="341.10" y2="232.30" stroke="#3b54a4" stroke-width="0.7" />
<line x1="338.50" y1="244.28" x2="341.10" y2="244.28" stroke="#3b54a4" stroke-width="0.7" />
<line x1="371.40" y1="214.45" x2="371.40" y2="222.10" stroke="#3b54a4" stroke-width="0.7" />
<line x1="370.10" y1="214.45" x2="372.70" y2="214.45" stroke="#3b54a4" stroke-width="0.7" />
<line x1="370.10" y1="222.10" x2="372.70" y2="222.10" stroke="#3b54a4" stroke-width="0.7" />
<line x1="371.40" y1="239.95" x2="371.40" y2="245.05" stroke="#ed2024" stroke-width="0.7" />
<line x1="370.10" y1="239.95" x2="372.70" y2="239.95" stroke="#ed2024" stroke-width="0.7" />
<line x1="370.10" y1="245.05" x2="372.70" y2="245.05" stroke="#ed2024" stroke-width="0.7" />
<polyline points="308.50,255.25 339.80,250.15 371.40,242.50" fill="none" stroke="#ed2024" stroke-width="0.8" stroke-dasharray="1.6 1.2" stroke-linejoin="round"/>
<polygon points="308.50,256.45 309.65,254.35 307.35,254.35" fill="#ed2024" stroke="#ed2024" stroke-width="0.3"/>
<polygon points="339.80,251.35 340.95,249.25 338.65,249.25" fill="#ed2024" stroke="#ed2024" stroke-width="0.3"/>
<polygon points="371.40,243.70 372.55,241.60 370.25,241.60" fill="#ed2024" stroke="#ed2024" stroke-width="0.3"/>
<polyline points="308.50,255.25 339.80,238.68 371.40,218.28" fill="none" stroke="#3b54a4" stroke-width="0.8" stroke-dasharray="1.6 1.2" stroke-linejoin="round"/>
<polygon points="308.50,254.05 309.65,256.15 307.35,256.15" fill="#3b54a4" stroke="#3b54a4" stroke-width="0.3"/>
<polygon points="339.80,237.48 340.95,239.58 338.65,239.58" fill="#3b54a4" stroke="#3b54a4" stroke-width="0.3"/>
<polygon points="371.40,217.08 372.55,219.18 370.25,219.18" fill="#3b54a4" stroke="#3b54a4" stroke-width="0.3"/>
<polyline points="308.50,255.25 339.80,224.65 371.40,202.72" fill="none" stroke="#3b54a4" stroke-width="0.8" stroke-linejoin="round"/>
<polygon points="308.50,253.93 309.82,255.25 308.50,256.57 307.18,255.25" fill="#3b54a4" stroke="#3b54a4" stroke-width="0.3"/>
<polygon points="339.80,223.33 341.12,224.65 339.80,225.97 338.48,224.65" fill="#3b54a4" stroke="#3b54a4" stroke-width="0.3"/>
<polygon points="371.40,201.40 372.72,202.72 371.40,204.04 370.08,202.72" fill="#3b54a4" stroke="#3b54a4" stroke-width="0.3"/>
<polyline points="308.50,255.25 339.80,208.07 371.40,176.20" fill="none" stroke="#ed2024" stroke-width="0.8" stroke-linejoin="round"/>
<circle cx="308.50" cy="255.25" r="1.30" fill="#ed2024" stroke="#ed2024" stroke-width="0.4"/>
<circle cx="339.80" cy="208.07" r="1.30" fill="#ed2024" stroke="#ed2024" stroke-width="0.4"/>
<circle cx="371.40" cy="176.20" r="1.30" fill="#ed2024" stroke="#ed2024" stroke-width="0.4"/>
<line x1="299.40" y1="172.50" x2="308.00" y2="172.50" stroke="#3b54a4" stroke-width="0.8" />
<polygon points="303.70,171.00 305.20,172.50 303.70,174.00 302.20,172.50" fill="#3b54a4" stroke="#3b54a4" stroke-width="0.3"/>
<text x="310.20" y="174.20" font-size="4.8" fill="#000" >LACZ</text>
<line x1="299.40" y1="181.00" x2="308.00" y2="181.00" stroke="#ed2024" stroke-width="0.8" />
<circle cx="303.70" cy="181.00" r="1.25" fill="#ed2024" stroke="#ed2024" stroke-width="0.4"/>
<text x="310.20" y="182.70" font-size="4.8" fill="#000" >MYC</text>
<line x1="299.40" y1="189.60" x2="308.00" y2="189.60" stroke="#3b54a4" stroke-width="0.8" stroke-dasharray="1.2 1" />
<polygon points="303.70,188.10 305.14,190.72 302.26,190.72" fill="#3b54a4" stroke="#3b54a4" stroke-width="0.3"/>
<text x="310.20" y="191.30" font-size="4.8" fill="#000" >LACZ</text>
<line x1="299.40" y1="198.20" x2="308.00" y2="198.20" stroke="#ed2024" stroke-width="0.8" stroke-dasharray="1.2 1" />
<polygon points="303.70,199.70 305.14,197.07 302.26,197.07" fill="#ed2024" stroke="#ed2024" stroke-width="0.3"/>
<text x="310.20" y="199.90" font-size="4.8" fill="#000" >MYC</text>
<polyline points="326.60,186.60 330.80,186.60 330.80,200.40 326.60,200.40" fill="none" stroke="#222" stroke-width="0.9" stroke-linejoin="round"/>
<text x="333.40" y="195.40" font-size="5.1" fill="#000" >+ PL</text>
<polyline points="377.60,172.90 382.60,172.90 382.60,196.60 377.60,196.60" fill="none" stroke="#222" stroke-width="0.8" stroke-linejoin="round"/>
<polyline points="377.60,220.30 382.60,220.30 382.60,244.00 377.60,244.00" fill="none" stroke="#222" stroke-width="0.8" stroke-linejoin="round"/>
<polyline points="385.20,176.20 390.10,176.20 390.10,244.00 385.20,244.00" fill="none" stroke="#222" stroke-width="0.8" stroke-linejoin="round"/>
<text x="378.50" y="188.80" font-size="5" text-anchor="middle" fill="#333" class="st">**</text>
<text x="375.30" y="233.90" font-size="5" text-anchor="middle" fill="#333" class="st">**</text>
<text x="401.30" y="144.90" font-size="10.5" font-weight="bold" fill="#000" >G</text>
<text x="432.40" y="148.30" font-size="5.4" text-anchor="middle" fill="#000" >MYC-DMSO</text>
<text x="475.40" y="148.30" font-size="5.3" text-anchor="middle" fill="#000" >MYC-PL</text>
<text x="410.00" y="172.20" font-size="5.5" text-anchor="middle" font-weight="bold" fill="#000" transform="rotate(-90 410.00 172.20)" >U266</text>
<text x="408.60" y="237.00" font-size="5.5" text-anchor="middle" font-weight="bold" fill="#000" transform="rotate(-90 408.60 237.00)" >U266</text>
<rect x="412.80" y="150.60" width="39.40" height="43.30" fill="#0b0b20" />
<rect x="455.30" y="150.40" width="39.60" height="43.40" fill="#040408" />
<ellipse cx="434" cy="174" rx="14.8" ry="13.6" fill="url(#nuc1)" filter="url(#b2)" transform="rotate(-30 434 174)"/>
<ellipse cx="476.5" cy="172.2" rx="12" ry="13.8" fill="url(#nuc2)" filter="url(#b2)"/>
<ellipse cx="471.6" cy="173" rx="6.4" ry="11.8" fill="#1e8595" opacity="0.62" filter="url(#b2)"/>
<ellipse cx="478" cy="173.2" rx="2.4" ry="5.2" fill="#05071a" opacity="0.8" filter="url(#b2)"/>
<circle cx="466.59" cy="175.50" r="0.67" fill="#74e2dc" opacity="0.61" filter="url(#b05)"/>
<circle cx="466.26" cy="172.34" r="0.41" fill="#74e2dc" opacity="0.63" filter="url(#b05)"/>
<circle cx="467.35" cy="164.97" r="0.38" fill="#74e2dc" opacity="0.52" filter="url(#b05)"/>
<circle cx="476.43" cy="178.66" r="0.59" fill="#74e2dc" opacity="0.37" filter="url(#b05)"/>
<circle cx="477.85" cy="171.48" r="0.58" fill="#74e2dc" opacity="0.69" filter="url(#b05)"/>
<circle cx="472.32" cy="175.34" r="0.53" fill="#74e2dc" opacity="0.38" filter="url(#b05)"/>
<circle cx="472.68" cy="178.71" r="0.36" fill="#74e2dc" opacity="0.61" filter="url(#b05)"/>
<circle cx="466.08" cy="171.63" r="0.52" fill="#74e2dc" opacity="0.71" filter="url(#b05)"/>
<circle cx="467.83" cy="174.58" r="0.70" fill="#74e2dc" opacity="0.90" filter="url(#b05)"/>
<circle cx="474.41" cy="164.20" r="0.46" fill="#74e2dc" opacity="0.48" filter="url(#b05)"/>
<circle cx="470.85" cy="176.78" r="0.62" fill="#74e2dc" opacity="0.57" filter="url(#b05)"/>
<circle cx="473.83" cy="166.43" r="0.69" fill="#74e2dc" opacity="0.82" filter="url(#b05)"/>
<circle cx="474.69" cy="172.82" r="0.67" fill="#74e2dc" opacity="0.61" filter="url(#b05)"/>
<circle cx="475.68" cy="171.83" r="0.38" fill="#74e2dc" opacity="0.70" filter="url(#b05)"/>
<circle cx="472.05" cy="166.27" r="0.38" fill="#74e2dc" opacity="0.53" filter="url(#b05)"/>
<circle cx="477.05" cy="170.44" r="0.39" fill="#74e2dc" opacity="0.49" filter="url(#b05)"/>
<circle cx="473.14" cy="175.13" r="0.63" fill="#74e2dc" opacity="0.45" filter="url(#b05)"/>
<circle cx="467.16" cy="169.79" r="0.42" fill="#74e2dc" opacity="0.75" filter="url(#b05)"/>
<circle cx="475.05" cy="179.96" r="0.39" fill="#74e2dc" opacity="0.58" filter="url(#b05)"/>
<circle cx="472.24" cy="179.26" r="0.69" fill="#74e2dc" opacity="0.79" filter="url(#b05)"/>
<circle cx="472.45" cy="180.38" r="0.65" fill="#74e2dc" opacity="0.70" filter="url(#b05)"/>
<circle cx="476.70" cy="179.84" r="0.42" fill="#74e2dc" opacity="0.49" filter="url(#b05)"/>
<circle cx="471.96" cy="165.65" r="0.45" fill="#74e2dc" opacity="0.39" filter="url(#b05)"/>
<circle cx="475.73" cy="177.80" r="0.44" fill="#74e2dc" opacity="0.68" filter="url(#b05)"/>
<circle cx="468.23" cy="178.80" r="0.69" fill="#74e2dc" opacity="0.62" filter="url(#b05)"/>
<circle cx="472.60" cy="177.65" r="0.67" fill="#74e2dc" opacity="0.80" filter="url(#b05)"/>
<circle cx="471.41" cy="178.56" r="0.61" fill="#74e2dc" opacity="0.87" filter="url(#b05)"/>
<circle cx="473.52" cy="183.86" r="0.66" fill="#74e2dc" opacity="0.68" filter="url(#b05)"/>
<circle cx="469.16" cy="174.99" r="0.36" fill="#74e2dc" opacity="0.88" filter="url(#b05)"/>
<circle cx="471.81" cy="182.95" r="0.44" fill="#74e2dc" opacity="0.80" filter="url(#b05)"/>
<circle cx="468.29" cy="168.88" r="0.41" fill="#74e2dc" opacity="0.75" filter="url(#b05)"/>
<circle cx="474.50" cy="175.40" r="0.55" fill="#74e2dc" opacity="0.82" filter="url(#b05)"/>
<circle cx="468.61" cy="168.36" r="0.67" fill="#74e2dc" opacity="0.46" filter="url(#b05)"/>
<circle cx="475.03" cy="173.49" r="0.51" fill="#74e2dc" opacity="0.38" filter="url(#b05)"/>
<circle cx="473.27" cy="179.59" r="0.55" fill="#74e2dc" opacity="0.42" filter="url(#b05)"/>
<circle cx="476.78" cy="171.60" r="0.59" fill="#74e2dc" opacity="0.67" filter="url(#b05)"/>
<circle cx="472.61" cy="175.47" r="0.36" fill="#74e2dc" opacity="0.85" filter="url(#b05)"/>
<circle cx="476.69" cy="174.09" r="0.52" fill="#74e2dc" opacity="0.75" filter="url(#b05)"/>
<circle cx="475.83" cy="176.92" r="0.61" fill="#74e2dc" opacity="0.85" filter="url(#b05)"/>
<circle cx="470.95" cy="162.66" r="0.63" fill="#74e2dc" opacity="0.85" filter="url(#b05)"/>
<circle cx="476.42" cy="166.24" r="0.50" fill="#74e2dc" opacity="0.78" filter="url(#b05)"/>
<circle cx="474.73" cy="165.80" r="0.57" fill="#74e2dc" opacity="0.56" filter="url(#b05)"/>
<circle cx="466.86" cy="168.08" r="0.38" fill="#74e2dc" opacity="0.70" filter="url(#b05)"/>
<circle cx="477.61" cy="172.33" r="0.60" fill="#74e2dc" opacity="0.56" filter="url(#b05)"/>
<circle cx="470.92" cy="163.53" r="0.50" fill="#74e2dc" opacity="0.81" filter="url(#b05)"/>
<circle cx="476.38" cy="178.07" r="0.36" fill="#74e2dc" opacity="0.68" filter="url(#b05)"/>
<circle cx="468.00" cy="173.54" r="0.59" fill="#74e2dc" opacity="0.62" filter="url(#b05)"/>
<circle cx="471.34" cy="175.76" r="0.46" fill="#74e2dc" opacity="0.72" filter="url(#b05)"/>
<circle cx="472.29" cy="178.07" r="0.67" fill="#74e2dc" opacity="0.71" filter="url(#b05)"/>
<circle cx="468.86" cy="181.58" r="0.42" fill="#74e2dc" opacity="0.59" filter="url(#b05)"/>
<circle cx="473.58" cy="162.00" r="0.66" fill="#74e2dc" opacity="0.56" filter="url(#b05)"/>
<circle cx="468.01" cy="169.26" r="0.40" fill="#74e2dc" opacity="0.62" filter="url(#b05)"/>
<circle cx="474.58" cy="163.32" r="0.60" fill="#74e2dc" opacity="0.87" filter="url(#b05)"/>
<circle cx="470.89" cy="178.23" r="0.51" fill="#74e2dc" opacity="0.50" filter="url(#b05)"/>
<circle cx="472.38" cy="180.59" r="0.57" fill="#74e2dc" opacity="0.62" filter="url(#b05)"/>
<circle cx="475.94" cy="171.86" r="0.38" fill="#74e2dc" opacity="0.37" filter="url(#b05)"/>
<circle cx="472.78" cy="170.23" r="0.60" fill="#74e2dc" opacity="0.66" filter="url(#b05)"/>
<circle cx="474.17" cy="173.41" r="0.51" fill="#74e2dc" opacity="0.36" filter="url(#b05)"/>
<circle cx="473.06" cy="167.27" r="0.40" fill="#74e2dc" opacity="0.38" filter="url(#b05)"/>
<circle cx="484.48" cy="174.97" r="0.43" fill="#5a7ad8" opacity="0.50" filter="url(#b05)"/>
<circle cx="484.23" cy="179.75" r="0.44" fill="#5a7ad8" opacity="0.36" filter="url(#b05)"/>
<circle cx="483.95" cy="171.73" r="0.30" fill="#5a7ad8" opacity="0.44" filter="url(#b05)"/>
<circle cx="483.19" cy="176.11" r="0.35" fill="#5a7ad8" opacity="0.40" filter="url(#b05)"/>
<circle cx="484.26" cy="176.48" r="0.42" fill="#5a7ad8" opacity="0.53" filter="url(#b05)"/>
<circle cx="485.64" cy="169.54" r="0.48" fill="#5a7ad8" opacity="0.33" filter="url(#b05)"/>
<circle cx="481.90" cy="181.02" r="0.33" fill="#5a7ad8" opacity="0.44" filter="url(#b05)"/>
<circle cx="485.89" cy="175.47" r="0.38" fill="#5a7ad8" opacity="0.47" filter="url(#b05)"/>
<circle cx="482.85" cy="180.53" r="0.49" fill="#5a7ad8" opacity="0.44" filter="url(#b05)"/>
<circle cx="483.65" cy="175.06" r="0.44" fill="#5a7ad8" opacity="0.55" filter="url(#b05)"/>
<circle cx="428" cy="171" r="0.7" fill="#5f7fe0" opacity="0.6" filter="url(#b05)"/>
<circle cx="437" cy="177" r="0.7" fill="#5f7fe0" opacity="0.6" filter="url(#b05)"/>
<circle cx="432" cy="181" r="0.7" fill="#5f7fe0" opacity="0.6" filter="url(#b05)"/>
<circle cx="440" cy="168" r="0.7" fill="#5f7fe0" opacity="0.6" filter="url(#b05)"/>
<circle cx="426.5" cy="176.5" r="0.7" fill="#5f7fe0" opacity="0.6" filter="url(#b05)"/>
<circle cx="434" cy="164" r="0.7" fill="#5f7fe0" opacity="0.6" filter="url(#b05)"/>
<circle cx="430.5" cy="175" r="0.7" fill="#5f7fe0" opacity="0.6" filter="url(#b05)"/>
<circle cx="438" cy="172" r="0.7" fill="#5f7fe0" opacity="0.6" filter="url(#b05)"/>
<line x1="475.89" y1="219.10" x2="487.03" y2="219.10" stroke="#333" stroke-width="0.9" />
<line x1="487.03" y1="216.90" x2="487.03" y2="221.30" stroke="#222" stroke-width="0.9" />
<rect x="413.80" y="214.70" width="61.69" height="8.80" fill="#f19189" stroke="#4a0c0c" stroke-width="0.8" />
<line x1="453.80" y1="233.05" x2="458.57" y2="233.05" stroke="#333" stroke-width="0.9" />
<line x1="458.57" y1="230.85" x2="458.57" y2="235.25" stroke="#222" stroke-width="0.9" />
<rect x="413.80" y="228.80" width="39.60" height="8.50" fill="#ed2024" stroke="#4a0c0c" stroke-width="0.8" />
<line x1="449.42" y1="246.95" x2="453.80" y2="246.95" stroke="#333" stroke-width="0.9" />
<line x1="453.80" y1="244.75" x2="453.80" y2="249.15" stroke="#222" stroke-width="0.9" />
<rect x="413.80" y="242.60" width="35.22" height="8.70" fill="#9ba5d6" stroke="#141c48" stroke-width="0.8" />
<line x1="421.16" y1="260.90" x2="426.53" y2="260.90" stroke="#333" stroke-width="0.9" />
<line x1="426.53" y1="258.70" x2="426.53" y2="263.10" stroke="#222" stroke-width="0.9" />
<rect x="413.80" y="256.80" width="6.96" height="8.20" fill="#3b54a4" stroke="#141c48" stroke-width="0.8" />
<line x1="413.40" y1="210.40" x2="413.40" y2="267.95" stroke="#000" stroke-width="0.7" />
<line x1="413.05" y1="267.60" x2="494.20" y2="267.60" stroke="#000" stroke-width="0.7" />
<line x1="413.40" y1="267.60" x2="413.40" y2="269.20" stroke="#000" stroke-width="0.7" />
<text x="413.40" y="276.90" font-size="6.5" text-anchor="middle" fill="#000" >0</text>
<line x1="433.30" y1="267.60" x2="433.30" y2="269.20" stroke="#000" stroke-width="0.7" />
<text x="433.30" y="276.90" font-size="6.5" text-anchor="middle" fill="#000" >10</text>
<line x1="453.20" y1="267.60" x2="453.20" y2="269.20" stroke="#000" stroke-width="0.7" />
<text x="453.20" y="276.90" font-size="6.5" text-anchor="middle" fill="#000" >20</text>
<line x1="473.10" y1="267.60" x2="473.10" y2="269.20" stroke="#000" stroke-width="0.7" />
<text x="473.10" y="276.90" font-size="6.5" text-anchor="middle" fill="#000" >30</text>
<line x1="493.00" y1="267.60" x2="493.00" y2="269.20" stroke="#000" stroke-width="0.7" />
<text x="493.00" y="276.90" font-size="6.5" text-anchor="middle" fill="#000" >40</text>
<line x1="411.80" y1="219.10" x2="413.40" y2="219.10" stroke="#000" stroke-width="0.7" />
<line x1="411.80" y1="233.05" x2="413.40" y2="233.05" stroke="#000" stroke-width="0.7" />
<line x1="411.80" y1="246.95" x2="413.40" y2="246.95" stroke="#000" stroke-width="0.7" />
<line x1="411.80" y1="260.90" x2="413.40" y2="260.90" stroke="#000" stroke-width="0.7" />
<polyline points="487.20,219.00 491.40,219.00 491.40,233.00 461.50,233.00" fill="none" stroke="#444" stroke-width="1.0" stroke-linejoin="round"/>
<text x="496.80" y="229.40" font-size="5" text-anchor="middle" fill="#333" class="st">**</text>
<rect x="463.80" y="239.10" width="6.40" height="2.80" fill="#f19189" stroke="#4a0c0c" stroke-width="0.8" />
<text x="472.40" y="242.26" font-size="4.9" fill="#000" >MYC + PL</text>
<rect x="463.80" y="245.08" width="6.40" height="2.80" fill="#ed2024" stroke="#4a0c0c" stroke-width="0.8" />
<text x="472.40" y="248.24" font-size="4.9" fill="#000" >MYC</text>
<rect x="463.80" y="251.06" width="6.40" height="2.80" fill="#9ba5d6" stroke="#141c48" stroke-width="0.8" />
<text x="472.40" y="254.22" font-size="4.9" fill="#000" >LACZ + PL</text>
<rect x="463.80" y="257.04" width="6.40" height="2.80" fill="#3b54a4" stroke="#141c48" stroke-width="0.8" />
<text x="472.40" y="260.20" font-size="4.9" fill="#000" >LACZ</text>
<text x="0.10" y="298.90" font-size="10.5" font-weight="bold" fill="#000" >H</text>
<line x1="30.45" y1="418.30" x2="131.20" y2="418.30" stroke="#000" stroke-width="0.7" />
<line x1="30.75" y1="418.30" x2="30.75" y2="420.10" stroke="#000" stroke-width="0.7" />
<line x1="35.74" y1="418.30" x2="35.74" y2="420.10" stroke="#000" stroke-width="0.7" />
<text x="37.84" y="423.20" font-size="6.8" text-anchor="end" fill="#000" transform="rotate(-90 37.84 423.20)" >0.5</text>
<line x1="40.73" y1="418.30" x2="40.73" y2="420.10" stroke="#000" stroke-width="0.7" />
<text x="43.93" y="423.20" font-size="6.8" text-anchor="end" fill="#000" transform="rotate(-90 43.93 423.20)" >1</text>
<line x1="60.69" y1="418.30" x2="60.69" y2="420.10" stroke="#000" stroke-width="0.7" />
<text x="63.09" y="423.20" font-size="6.8" text-anchor="end" fill="#000" transform="rotate(-90 63.09 423.20)" >3</text>
<line x1="80.65" y1="418.30" x2="80.65" y2="420.10" stroke="#000" stroke-width="0.7" />
<text x="83.05" y="423.20" font-size="6.8" text-anchor="end" fill="#000" transform="rotate(-90 83.05 423.20)" >5</text>
<line x1="130.55" y1="418.30" x2="130.55" y2="420.10" stroke="#000" stroke-width="0.7" />
<text x="133.15" y="423.20" font-size="6.8" text-anchor="end" fill="#000" transform="rotate(-90 133.15 423.20)" >10</text>
<line x1="30.80" y1="308.35" x2="30.80" y2="418.65" stroke="#000" stroke-width="0.7" />
<line x1="28.80" y1="418.30" x2="30.80" y2="418.30" stroke="#000" stroke-width="0.7" />
<text x="26.30" y="420.64" font-size="6.5" text-anchor="end" fill="#000" >0</text>
<line x1="28.80" y1="396.37" x2="30.80" y2="396.37" stroke="#000" stroke-width="0.7" />
<text x="26.30" y="398.71" font-size="6.5" text-anchor="end" fill="#000" >20</text>
<line x1="28.80" y1="374.44" x2="30.80" y2="374.44" stroke="#000" stroke-width="0.7" />
<text x="26.30" y="376.78" font-size="6.5" text-anchor="end" fill="#000" >40</text>
<line x1="28.80" y1="352.51" x2="30.80" y2="352.51" stroke="#000" stroke-width="0.7" />
<text x="26.30" y="354.85" font-size="6.5" text-anchor="end" fill="#000" >60</text>
<line x1="28.80" y1="330.58" x2="30.80" y2="330.58" stroke="#000" stroke-width="0.7" />
<text x="26.30" y="332.92" font-size="6.5" text-anchor="end" fill="#000" >80</text>
<line x1="28.80" y1="308.65" x2="30.80" y2="308.65" stroke="#000" stroke-width="0.7" />
<text x="26.30" y="310.99" font-size="6.5" text-anchor="end" fill="#000" >100</text>
<text x="12.30" y="363.00" font-size="7.25" text-anchor="middle" fill="#000" transform="rotate(-90 12.30 363.00)" >% of Viable cells</text>
<text x="82.20" y="439.80" font-size="6.1" text-anchor="middle" fill="#000" >Dose (µmol/L)</text>
<polyline points="30.75,308.70 33.30,331.20 35.74,344.00 40.73,350.50 60.69,372.90 80.65,399.30 130.55,413.50" fill="none" stroke="#e58ac0" stroke-width="0.75" stroke-dasharray="1.6 1.2" stroke-linejoin="round"/>
<rect x="29.35" y="307.30" width="2.80" height="2.80" fill="#fff" stroke="#e58ac0" stroke-width="0.4"/>
<rect x="31.90" y="329.80" width="2.80" height="2.80" fill="#fff" stroke="#e58ac0" stroke-width="0.4"/>
<rect x="34.34" y="342.60" width="2.80" height="2.80" fill="#fff" stroke="#e58ac0" stroke-width="0.4"/>
<rect x="39.33" y="349.10" width="2.80" height="2.80" fill="#fff" stroke="#e58ac0" stroke-width="0.4"/>
<rect x="59.29" y="371.50" width="2.80" height="2.80" fill="#fff" stroke="#e58ac0" stroke-width="0.4"/>
<rect x="79.25" y="397.90" width="2.80" height="2.80" fill="#fff" stroke="#e58ac0" stroke-width="0.4"/>
<rect x="129.15" y="412.10" width="2.80" height="2.80" fill="#fff" stroke="#e58ac0" stroke-width="0.4"/>
<polyline points="30.75,308.70 35.74,308.70 40.73,324.10 60.69,325.50 80.65,347.70 130.55,397.00" fill="none" stroke="#a01419" stroke-width="0.75" stroke-linejoin="round"/>
<polygon points="30.75,307.26 32.19,308.70 30.75,310.14 29.31,308.70" fill="#a01419" stroke="#a01419" stroke-width="0.3"/>
<polygon points="35.74,307.26 37.18,308.70 35.74,310.14 34.30,308.70" fill="#a01419" stroke="#a01419" stroke-width="0.3"/>
<polygon points="40.73,322.66 42.17,324.10 40.73,325.54 39.29,324.10" fill="#a01419" stroke="#a01419" stroke-width="0.3"/>
<polygon points="60.69,324.06 62.13,325.50 60.69,326.94 59.25,325.50" fill="#a01419" stroke="#a01419" stroke-width="0.3"/>
<polygon points="80.65,346.26 82.09,347.70 80.65,349.14 79.21,347.70" fill="#a01419" stroke="#a01419" stroke-width="0.3"/>
<polygon points="130.55,395.56 131.99,397.00 130.55,398.44 129.11,397.00" fill="#a01419" stroke="#a01419" stroke-width="0.3"/>
<polyline points="30.75,308.70 35.74,317.60 40.73,328.40 60.69,378.00 80.65,407.80 130.55,407.20" fill="none" stroke="#ed2024" stroke-width="0.75" stroke-linejoin="round"/>
<polygon points="30.75,307.02 32.36,309.96 29.14,309.96" fill="#ed2024" stroke="#ed2024" stroke-width="0.3"/>
<polygon points="35.74,315.92 37.35,318.86 34.13,318.86" fill="#ed2024" stroke="#ed2024" stroke-width="0.3"/>
<polygon points="40.73,326.72 42.34,329.66 39.12,329.66" fill="#ed2024" stroke="#ed2024" stroke-width="0.3"/>
<polygon points="60.69,376.32 62.30,379.26 59.08,379.26" fill="#ed2024" stroke="#ed2024" stroke-width="0.3"/>
<polygon points="80.65,406.12 82.26,409.06 79.04,409.06" fill="#ed2024" stroke="#ed2024" stroke-width="0.3"/>
<polygon points="130.55,405.52 132.16,408.46 128.94,408.46" fill="#ed2024" stroke="#ed2024" stroke-width="0.3"/>
<polyline points="30.75,308.70 33.30,336.90 35.74,358.20 40.73,384.30 60.69,388.00 80.65,393.60 130.55,411.50" fill="none" stroke="#111" stroke-width="0.75" stroke-linejoin="round"/>
<polygon points="30.75,307.26 32.19,308.70 30.75,310.14 29.31,308.70" fill="#111" stroke="#111" stroke-width="0.3"/>
<polygon points="33.30,335.46 34.74,336.90 33.30,338.34 31.86,336.90" fill="#111" stroke="#111" stroke-width="0.3"/>
<polygon points="35.74,356.76 37.18,358.20 35.74,359.64 34.30,358.20" fill="#111" stroke="#111" stroke-width="0.3"/>
<polygon points="40.73,382.86 42.17,384.30 40.73,385.74 39.29,384.30" fill="#111" stroke="#111" stroke-width="0.3"/>
<polygon points="60.69,386.56 62.13,388.00 60.69,389.44 59.25,388.00" fill="#111" stroke="#111" stroke-width="0.3"/>
<polygon points="80.65,392.16 82.09,393.60 80.65,395.04 79.21,393.60" fill="#111" stroke="#111" stroke-width="0.3"/>
<polygon points="130.55,410.06 131.99,411.50 130.55,412.94 129.11,411.50" fill="#111" stroke="#111" stroke-width="0.3"/>
<polyline points="30.75,308.70 35.74,308.70 40.73,351.00 60.69,401.60 80.65,410.00 130.55,405.50" fill="none" stroke="#3b54a4" stroke-width="0.75" stroke-linejoin="round"/>
<rect x="29.25" y="307.20" width="3.00" height="3.00" fill="#3b54a4" stroke="#3b54a4" stroke-width="0.4"/>
<rect x="34.24" y="307.20" width="3.00" height="3.00" fill="#3b54a4" stroke="#3b54a4" stroke-width="0.4"/>
<rect x="39.23" y="349.50" width="3.00" height="3.00" fill="#3b54a4" stroke="#3b54a4" stroke-width="0.4"/>
<rect x="59.19" y="400.10" width="3.00" height="3.00" fill="#3b54a4" stroke="#3b54a4" stroke-width="0.4"/>
<rect x="79.15" y="408.50" width="3.00" height="3.00" fill="#3b54a4" stroke="#3b54a4" stroke-width="0.4"/>
<rect x="129.05" y="404.00" width="3.00" height="3.00" fill="#3b54a4" stroke="#3b54a4" stroke-width="0.4"/>
<polyline points="30.75,308.70 33.30,325.50 35.74,344.80 40.73,349.60 60.69,349.00 80.65,358.70 130.55,388.80" fill="none" stroke="#2aa3bf" stroke-width="0.8" stroke-dasharray="1.8 1.3" stroke-linejoin="round"/>
<circle cx="30.75" cy="308.70" r="1.60" fill="#2aa3bf" stroke="#2aa3bf" stroke-width="0.4"/>
<circle cx="33.30" cy="325.50" r="1.60" fill="#2aa3bf" stroke="#2aa3bf" stroke-width="0.4"/>
<circle cx="35.74" cy="344.80" r="1.60" fill="#2aa3bf" stroke="#2aa3bf" stroke-width="0.4"/>
<circle cx="40.73" cy="349.60" r="1.60" fill="#2aa3bf" stroke="#2aa3bf" stroke-width="0.4"/>
<circle cx="60.69" cy="349.00" r="1.60" fill="#2aa3bf" stroke="#2aa3bf" stroke-width="0.4"/>
<circle cx="80.65" cy="358.70" r="1.60" fill="#2aa3bf" stroke="#2aa3bf" stroke-width="0.4"/>
<circle cx="130.55" cy="388.80" r="1.60" fill="#2aa3bf" stroke="#2aa3bf" stroke-width="0.4"/>
<line x1="96.00" y1="309.60" x2="103.00" y2="309.60" stroke="#2aa3bf" stroke-width="0.8" stroke-dasharray="1.2 1" />
<circle cx="99.50" cy="309.60" r="1.25" fill="#2aa3bf" stroke="#2aa3bf" stroke-width="0.4"/>
<text x="105.60" y="311.40" font-size="5.0" fill="#000" >MM.1S</text>
<line x1="96.00" y1="317.75" x2="103.00" y2="317.75" stroke="#3b54a4" stroke-width="0.8" />
<rect x="98.25" y="316.50" width="2.50" height="2.50" fill="#3b54a4" stroke="#3b54a4" stroke-width="0.4"/>
<text x="105.60" y="319.55" font-size="5.0" fill="#000" >H929</text>
<line x1="96.00" y1="325.90" x2="103.00" y2="325.90" stroke="#111" stroke-width="0.8" />
<polygon points="99.50,324.40 101.00,325.90 99.50,327.40 98.00,325.90" fill="#111" stroke="#111" stroke-width="0.3"/>
<text x="105.60" y="327.70" font-size="5.0" fill="#000" >U266</text>
<line x1="96.00" y1="334.05" x2="103.00" y2="334.05" stroke="#ed2024" stroke-width="0.8" />
<polygon points="99.50,332.55 100.94,335.18 98.06,335.18" fill="#ed2024" stroke="#ed2024" stroke-width="0.3"/>
<text x="105.60" y="335.85" font-size="5.0" fill="#000" >RPMI/8226</text>
<line x1="96.00" y1="342.20" x2="103.00" y2="342.20" stroke="#a01419" stroke-width="0.8" />
<polygon points="99.50,340.70 101.00,342.20 99.50,343.70 98.00,342.20" fill="#a01419" stroke="#a01419" stroke-width="0.3"/>
<text x="105.60" y="344.00" font-size="5.0" fill="#000" >OPM-2</text>
<line x1="96.00" y1="350.35" x2="103.00" y2="350.35" stroke="#e58ac0" stroke-width="0.8" stroke-dasharray="1.2 1" />
<rect x="98.25" y="349.10" width="2.50" height="2.50" fill="#fff" stroke="#e58ac0" stroke-width="0.4"/>
<text x="105.60" y="352.15" font-size="5.0" fill="#000" >OPM-1</text>
<text x="157.30" y="298.90" font-size="10.5" font-weight="bold" fill="#000" >I</text>
<line x1="184.75" y1="410.45" x2="184.75" y2="411.10" stroke="#000" stroke-width="0.9" />
<line x1="183.05" y1="410.45" x2="186.45" y2="410.45" stroke="#000" stroke-width="0.9" />
<rect x="181.15" y="411.10" width="7.20" height="7.60" fill="#000" stroke="#000" stroke-width="0.9" />
<line x1="194.60" y1="407.20" x2="194.60" y2="408.39" stroke="#000" stroke-width="0.9" />
<line x1="192.90" y1="407.20" x2="196.30" y2="407.20" stroke="#000" stroke-width="0.9" />
<rect x="190.95" y="408.39" width="7.30" height="10.31" fill="#fff" stroke="#000" stroke-width="0.9" />
<line x1="204.70" y1="317.25" x2="204.70" y2="327.56" stroke="#000" stroke-width="0.9" />
<line x1="203.00" y1="317.25" x2="206.40" y2="317.25" stroke="#000" stroke-width="0.9" />
<rect x="200.95" y="327.56" width="7.50" height="91.14" fill="#3b54a4" stroke="#000" stroke-width="0.9" />
<line x1="214.20" y1="350.56" x2="214.20" y2="353.06" stroke="#000" stroke-width="0.9" />
<line x1="212.50" y1="350.56" x2="215.90" y2="350.56" stroke="#000" stroke-width="0.9" />
<rect x="210.45" y="353.06" width="7.50" height="65.64" fill="#a8a9ad" stroke="#000" stroke-width="0.9" />
<line x1="230.90" y1="406.98" x2="230.90" y2="408.07" stroke="#000" stroke-width="0.9" />
<line x1="229.20" y1="406.98" x2="232.60" y2="406.98" stroke="#000" stroke-width="0.9" />
<rect x="227.25" y="408.07" width="7.30" height="10.63" fill="#000" stroke="#000" stroke-width="0.9" />
<line x1="240.75" y1="410.24" x2="240.75" y2="411.65" stroke="#000" stroke-width="0.9" />
<line x1="239.05" y1="410.24" x2="242.45" y2="410.24" stroke="#000" stroke-width="0.9" />
<rect x="237.05" y="411.65" width="7.40" height="7.05" fill="#fff" stroke="#000" stroke-width="0.9" />
<line x1="250.55" y1="392.01" x2="250.55" y2="392.88" stroke="#000" stroke-width="0.9" />
<line x1="248.85" y1="392.01" x2="252.25" y2="392.01" stroke="#000" stroke-width="0.9" />
<rect x="246.85" y="392.88" width="7.40" height="25.82" fill="#3b54a4" stroke="#000" stroke-width="0.9" />
<line x1="260.35" y1="406.33" x2="260.35" y2="410.02" stroke="#000" stroke-width="0.9" />
<line x1="258.65" y1="406.33" x2="262.05" y2="406.33" stroke="#000" stroke-width="0.9" />
<rect x="256.65" y="410.02" width="7.40" height="8.68" fill="#a8a9ad" stroke="#000" stroke-width="0.9" />
<line x1="175.65" y1="418.70" x2="270.40" y2="418.70" stroke="#000" stroke-width="0.7" />
<line x1="199.20" y1="418.70" x2="199.20" y2="420.70" stroke="#000" stroke-width="0.7" />
<line x1="245.60" y1="418.70" x2="245.60" y2="420.70" stroke="#000" stroke-width="0.7" />
<line x1="176.00" y1="309.90" x2="176.00" y2="419.05" stroke="#000" stroke-width="0.7" />
<line x1="174.20" y1="418.70" x2="176.00" y2="418.70" stroke="#000" stroke-width="0.7" />
<text x="172.60" y="420.97" font-size="6.3" text-anchor="end" fill="#000" >0</text>
<line x1="174.20" y1="397.00" x2="176.00" y2="397.00" stroke="#000" stroke-width="0.7" />
<text x="172.60" y="399.27" font-size="6.3" text-anchor="end" fill="#000" >20</text>
<line x1="174.20" y1="375.30" x2="176.00" y2="375.30" stroke="#000" stroke-width="0.7" />
<text x="172.60" y="377.57" font-size="6.3" text-anchor="end" fill="#000" >40</text>
<line x1="174.20" y1="353.60" x2="176.00" y2="353.60" stroke="#000" stroke-width="0.7" />
<text x="172.60" y="355.87" font-size="6.3" text-anchor="end" fill="#000" >60</text>
<line x1="174.20" y1="331.90" x2="176.00" y2="331.90" stroke="#000" stroke-width="0.7" />
<text x="172.60" y="334.17" font-size="6.3" text-anchor="end" fill="#000" >80</text>
<line x1="174.20" y1="310.20" x2="176.00" y2="310.20" stroke="#000" stroke-width="0.7" />
<text x="172.60" y="312.47" font-size="6.3" text-anchor="end" fill="#000" >100</text>
<text x="162.40" y="364.20" font-size="6.63" text-anchor="middle" fill="#000" transform="rotate(-90 162.40 364.20)" >% of Apoptotic cells</text>
<text x="199.80" y="428.00" font-size="6.4" text-anchor="middle" fill="#000" >H929</text>
<text x="246.40" y="428.00" font-size="6.4" text-anchor="middle" fill="#000" >OPM-2</text>
<polyline points="204.40,316.00 204.40,308.00 214.70,308.00 214.70,348.60" fill="none" stroke="#000" stroke-width="0.6" stroke-linejoin="round"/>
<polygon points="213.80,347.00 215.60,347.00 214.70,348.60" fill="#000"/>
<line x1="203.50" y1="316.00" x2="205.30" y2="316.00" stroke="#000" stroke-width="0.6" />
<text x="209.55" y="307.30" font-size="5.2" text-anchor="middle" fill="#111" class="st">***</text>
<polyline points="250.60,391.00 250.60,387.40 261.00,387.40 261.00,404.40" fill="none" stroke="#000" stroke-width="0.6" stroke-linejoin="round"/>
<polygon points="260.10,402.80 261.90,402.80 261.00,404.40" fill="#000"/>
<line x1="249.70" y1="391.00" x2="251.50" y2="391.00" stroke="#000" stroke-width="0.6" />
<text x="255.80" y="386.70" font-size="5.2" text-anchor="middle" fill="#111" class="st">***</text>
<rect x="225.50" y="331.30" width="7.20" height="2.90" fill="#000" stroke="#000" stroke-width="1.0" />
<text x="235.20" y="334.51" font-size="4.9" fill="#000" >DMSO</text>
<rect x="225.50" y="339.07" width="7.20" height="2.90" fill="#fff" stroke="#000" stroke-width="1.0" />
<text x="235.20" y="342.28" font-size="4.9" fill="#000" >NAC</text>
<rect x="225.50" y="346.84" width="7.20" height="2.90" fill="#3b54a4" stroke="#000" stroke-width="1.0" />
<text x="235.20" y="350.05" font-size="4.9" fill="#000" >PL</text>
<rect x="225.50" y="354.61" width="7.20" height="2.90" fill="#a8a9ad" stroke="#000" stroke-width="1.0" />
<text x="235.20" y="357.82" font-size="4.9" fill="#000" >NAC + PL</text>
<text x="281.50" y="298.90" font-size="10.5" font-weight="bold" fill="#000" >J</text>
<text x="324.00" y="326.00" font-size="5.9" text-anchor="middle" font-weight="bold" fill="#000" >RPMI/8226</text>
<text x="368.40" y="326.00" font-size="5.9" text-anchor="middle" font-weight="bold" fill="#000" >H929</text>
<text x="297.30" y="336.00" font-size="6" text-anchor="middle" fill="#000" >PL</text>
<text x="310.60" y="335.90" font-size="6" text-anchor="middle" fill="#000" >0</text>
<text x="324.00" y="335.90" font-size="6" text-anchor="middle" fill="#000" >1</text>
<text x="337.20" y="335.90" font-size="6" text-anchor="middle" fill="#000" >2.5</text>
<text x="356.60" y="335.90" font-size="6" text-anchor="middle" fill="#000" >0</text>
<text x="369.60" y="335.90" font-size="6" text-anchor="middle" fill="#000" >1</text>
<text x="382.40" y="335.90" font-size="6" text-anchor="middle" fill="#000" >2.5</text>
<text x="301.20" y="354.40" font-size="6" text-anchor="end" fill="#000" >PARP</text>
<text x="301.20" y="379.80" font-size="6" text-anchor="end" fill="#000" >γ-H2A.X</text>
<text x="301.20" y="396.95" font-size="6" text-anchor="end" fill="#000" >p21</text>
<text x="301.20" y="413.10" font-size="6" text-anchor="end" fill="#000" >Actin</text>
<g filter="url(#bl)">
<rect x="304.40" y="338.20" width="39.70" height="30.00" fill="#d1d1d1" />
<rect x="348.00" y="338.20" width="40.50" height="30.00" fill="#c8c8c8" />
<rect x="304.40" y="369.80" width="39.70" height="15.60" fill="#ababab" />
<rect x="348.00" y="369.80" width="40.50" height="15.60" fill="#a8a8a8" />
<rect x="304.40" y="387.90" width="39.70" height="13.70" fill="#bebebe" />
<rect x="348.00" y="387.90" width="40.50" height="13.70" fill="#b5b5b5" />
<rect x="304.40" y="404.00" width="39.70" height="13.80" fill="#a4a4a4" />
<rect x="348.00" y="404.00" width="40.50" height="13.80" fill="#a9a9a9" />
</g>
<rect x="304.60" y="347.30" width="12.40" height="4.60" rx="2.30" fill="#0a0a0a" opacity="0.86" filter="url(#b15)"/>
<rect x="317.80" y="347.60" width="12.40" height="4.40" rx="2.20" fill="#0a0a0a" opacity="0.84" filter="url(#b15)"/>
<rect x="331.20" y="348.30" width="11.60" height="4.00" rx="2.00" fill="#0a0a0a" opacity="0.82" filter="url(#b15)"/>
<rect x="319.50" y="356.70" width="9.00" height="1.80" rx="0.90" fill="#0a0a0a" opacity="0.16" filter="url(#b15)"/>
<rect x="332.50" y="356.40" width="9.00" height="2.00" rx="1.00" fill="#0a0a0a" opacity="0.24" filter="url(#b15)"/>
<rect x="351.60" y="349.00" width="36.00" height="3.60" rx="1.80" fill="#0a0a0a" opacity="0.45" filter="url(#b15)"/>
<rect x="350.60" y="347.60" width="12.40" height="6.40" rx="3.20" fill="#0a0a0a" opacity="0.86" filter="url(#b15)"/>
<rect x="363.80" y="347.30" width="11.60" height="6.20" rx="3.10" fill="#0a0a0a" opacity="0.86" filter="url(#b15)"/>
<rect x="376.20" y="348.10" width="12.40" height="5.80" rx="2.90" fill="#0a0a0a" opacity="0.86" filter="url(#b15)"/>
<rect x="352.05" y="356.50" width="9.50" height="1.80" rx="0.90" fill="#0a0a0a" opacity="0.3" filter="url(#b15)"/>
<rect x="364.35" y="356.30" width="10.50" height="2.40" rx="1.20" fill="#0a0a0a" opacity="0.8" filter="url(#b15)"/>
<rect x="377.15" y="356.30" width="10.50" height="2.40" rx="1.20" fill="#0a0a0a" opacity="0.8" filter="url(#b15)"/>
<rect x="305.80" y="377.90" width="10.00" height="1.80" rx="0.90" fill="#0a0a0a" opacity="0.6" filter="url(#b15)"/>
<rect x="317.80" y="377.00" width="12.40" height="2.80" rx="1.40" fill="#0a0a0a" opacity="0.9" filter="url(#b15)"/>
<rect x="331.00" y="377.00" width="12.00" height="2.80" rx="1.40" fill="#0a0a0a" opacity="0.9" filter="url(#b15)"/>
<rect x="352.05" y="377.25" width="9.50" height="1.50" rx="0.75" fill="#0a0a0a" opacity="0.45" filter="url(#b15)"/>
<rect x="364.35" y="376.85" width="10.50" height="1.90" rx="0.95" fill="#0a0a0a" opacity="0.62" filter="url(#b15)"/>
<rect x="376.10" y="375.70" width="12.60" height="2.60" rx="1.30" fill="#0a0a0a" opacity="0.9" filter="url(#b15)"/>
<rect x="319.75" y="394.75" width="8.50" height="1.50" rx="0.75" fill="#0a0a0a" opacity="0.38" filter="url(#b15)"/>
<rect x="332.00" y="394.20" width="10.00" height="2.20" rx="1.10" fill="#0a0a0a" opacity="0.65" filter="url(#b15)"/>
<rect x="352.30" y="394.45" width="9.00" height="1.70" rx="0.85" fill="#0a0a0a" opacity="0.45" filter="url(#b15)"/>
<rect x="363.80" y="394.00" width="11.60" height="3.00" rx="1.50" fill="#0a0a0a" opacity="0.9" filter="url(#b15)"/>
<rect x="376.60" y="394.00" width="11.60" height="3.00" rx="1.50" fill="#0a0a0a" opacity="0.9" filter="url(#b15)"/>
<rect x="305.30" y="409.95" width="11.00" height="2.90" rx="1.45" fill="#0a0a0a" opacity="0.88" filter="url(#b15)"/>
<rect x="318.50" y="409.95" width="11.00" height="2.90" rx="1.45" fill="#0a0a0a" opacity="0.88" filter="url(#b15)"/>
<rect x="331.50" y="409.95" width="11.00" height="2.90" rx="1.45" fill="#0a0a0a" opacity="0.88" filter="url(#b15)"/>
<rect x="351.80" y="409.60" width="10.00" height="2.80" rx="1.40" fill="#0a0a0a" opacity="0.82" filter="url(#b15)"/>
<rect x="364.60" y="409.60" width="10.00" height="2.80" rx="1.40" fill="#0a0a0a" opacity="0.82" filter="url(#b15)"/>
<rect x="377.40" y="409.60" width="10.00" height="2.80" rx="1.40" fill="#0a0a0a" opacity="0.82" filter="url(#b15)"/>
<rect x="353.55" y="414.80" width="6.50" height="1.00" rx="0.50" fill="#0a0a0a" opacity="0.3" filter="url(#b15)"/>
<text x="406.20" y="298.90" font-size="10.5" font-weight="bold" fill="#000" >K</text>
<line x1="425.45" y1="374.09" x2="425.45" y2="375.80" stroke="#000" stroke-width="0.6" />
<line x1="424.16" y1="374.09" x2="426.74" y2="374.09" stroke="#000" stroke-width="0.6" />
<rect x="423.30" y="375.80" width="4.30" height="42.70" fill="#3b54a4" stroke="#000" stroke-width="0.5" />
<line x1="430.78" y1="356.16" x2="430.78" y2="369.39" stroke="#000" stroke-width="0.6" />
<line x1="429.49" y1="356.16" x2="432.07" y2="356.16" stroke="#000" stroke-width="0.6" />
<rect x="428.63" y="369.39" width="4.30" height="49.11" fill="#ed2024" stroke="#000" stroke-width="0.5" />
<line x1="436.11" y1="371.53" x2="436.11" y2="375.80" stroke="#000" stroke-width="0.6" />
<line x1="434.82" y1="371.53" x2="437.40" y2="371.53" stroke="#000" stroke-width="0.6" />
<rect x="433.96" y="375.80" width="4.30" height="42.70" fill="#000" stroke="#000" stroke-width="0.5" />
<line x1="441.44" y1="386.90" x2="441.44" y2="387.76" stroke="#000" stroke-width="0.6" />
<line x1="440.15" y1="386.90" x2="442.73" y2="386.90" stroke="#000" stroke-width="0.6" />
<rect x="439.29" y="387.76" width="4.30" height="30.74" fill="#6fbe44" stroke="#000" stroke-width="0.5" />
<line x1="450.25" y1="373.24" x2="450.25" y2="375.80" stroke="#000" stroke-width="0.6" />
<line x1="448.96" y1="373.24" x2="451.54" y2="373.24" stroke="#000" stroke-width="0.6" />
<rect x="448.10" y="375.80" width="4.30" height="42.70" fill="#3b54a4" stroke="#000" stroke-width="0.5" />
<line x1="455.58" y1="316.87" x2="455.58" y2="319.01" stroke="#000" stroke-width="0.6" />
<line x1="454.29" y1="316.87" x2="456.87" y2="316.87" stroke="#000" stroke-width="0.6" />
<rect x="453.43" y="319.01" width="4.30" height="99.49" fill="#ed2024" stroke="#000" stroke-width="0.5" />
<line x1="460.91" y1="369.82" x2="460.91" y2="375.80" stroke="#000" stroke-width="0.6" />
<line x1="459.62" y1="369.82" x2="462.20" y2="369.82" stroke="#000" stroke-width="0.6" />
<rect x="458.76" y="375.80" width="4.30" height="42.70" fill="#000" stroke="#000" stroke-width="0.5" />
<line x1="466.24" y1="395.01" x2="466.24" y2="398.00" stroke="#000" stroke-width="0.6" />
<line x1="464.95" y1="395.01" x2="467.53" y2="395.01" stroke="#000" stroke-width="0.6" />
<rect x="464.09" y="398.00" width="4.30" height="20.50" fill="#6fbe44" stroke="#000" stroke-width="0.5" />
<line x1="475.05" y1="372.81" x2="475.05" y2="375.80" stroke="#000" stroke-width="0.6" />
<line x1="473.76" y1="372.81" x2="476.34" y2="372.81" stroke="#000" stroke-width="0.6" />
<rect x="472.90" y="375.80" width="4.30" height="42.70" fill="#3b54a4" stroke="#000" stroke-width="0.5" />
<line x1="480.38" y1="349.33" x2="480.38" y2="365.98" stroke="#000" stroke-width="0.6" />
<line x1="479.09" y1="349.33" x2="481.67" y2="349.33" stroke="#000" stroke-width="0.6" />
<rect x="478.23" y="365.98" width="4.30" height="52.52" fill="#ed2024" stroke="#000" stroke-width="0.5" />
<line x1="485.71" y1="367.26" x2="485.71" y2="375.80" stroke="#000" stroke-width="0.6" />
<line x1="484.42" y1="367.26" x2="487.00" y2="367.26" stroke="#000" stroke-width="0.6" />
<rect x="483.56" y="375.80" width="4.30" height="42.70" fill="#000" stroke="#000" stroke-width="0.5" />
<line x1="491.04" y1="388.61" x2="491.04" y2="395.44" stroke="#000" stroke-width="0.6" />
<line x1="489.75" y1="388.61" x2="492.33" y2="388.61" stroke="#000" stroke-width="0.6" />
<rect x="488.89" y="395.44" width="4.30" height="23.06" fill="#6fbe44" stroke="#000" stroke-width="0.5" />
<line x1="420.15" y1="418.50" x2="494.90" y2="418.50" stroke="#000" stroke-width="0.7" />
<line x1="420.50" y1="311.45" x2="420.50" y2="418.85" stroke="#000" stroke-width="0.7" />
<line x1="418.80" y1="418.50" x2="420.50" y2="418.50" stroke="#000" stroke-width="0.7" />
<text x="416.60" y="420.62" font-size="5.9" text-anchor="end" fill="#000" >0</text>
<line x1="418.80" y1="397.15" x2="420.50" y2="397.15" stroke="#000" stroke-width="0.7" />
<text x="416.60" y="399.27" font-size="5.9" text-anchor="end" fill="#000" >0.5</text>
<line x1="418.80" y1="375.80" x2="420.50" y2="375.80" stroke="#000" stroke-width="0.7" />
<text x="416.60" y="377.92" font-size="5.9" text-anchor="end" fill="#000" >1.0</text>
<line x1="418.80" y1="354.45" x2="420.50" y2="354.45" stroke="#000" stroke-width="0.7" />
<text x="416.60" y="356.57" font-size="5.9" text-anchor="end" fill="#000" >1.5</text>
<line x1="418.80" y1="333.10" x2="420.50" y2="333.10" stroke="#000" stroke-width="0.7" />
<text x="416.60" y="335.22" font-size="5.9" text-anchor="end" fill="#000" >2.0</text>
<line x1="418.80" y1="311.75" x2="420.50" y2="311.75" stroke="#000" stroke-width="0.7" />
<text x="416.60" y="313.87" font-size="5.9" text-anchor="end" fill="#000" >2.5</text>
<line x1="433.40" y1="418.50" x2="433.40" y2="420.30" stroke="#000" stroke-width="0.7" />
<line x1="458.20" y1="418.50" x2="458.20" y2="420.30" stroke="#000" stroke-width="0.7" />
<line x1="483.00" y1="418.50" x2="483.00" y2="420.30" stroke="#000" stroke-width="0.7" />
<text x="403.80" y="367.00" font-size="6.1" text-anchor="middle" fill="#000" transform="rotate(-90 403.80 367.00)" >Fold changes</text>
<text x="433.50" y="426.70" font-size="6.3" text-anchor="middle" font-style="italic" fill="#000" >GSTP1</text>
<text x="460.00" y="426.70" font-size="6.3" text-anchor="middle" font-style="italic" fill="#000" >GSTO1</text>
<text x="484.40" y="426.70" font-size="6.3" text-anchor="middle" font-style="italic" fill="#000" >GLO1</text>
<polyline points="425.45,371.53 425.45,351.89 430.78,351.89 430.78,354.45" fill="none" stroke="#000" stroke-width="0.5" stroke-linejoin="round"/>
<polygon points="429.88,352.85 431.68,352.85 430.78,354.45" fill="#000"/>
<line x1="424.55" y1="371.53" x2="426.35" y2="371.53" stroke="#000" stroke-width="0.5" />
<text x="428.12" y="352.29" font-size="4.8" text-anchor="middle" fill="#111" class="st">***</text>
<polyline points="436.11,370.25 436.11,368.54 441.44,368.54 441.44,384.34" fill="none" stroke="#000" stroke-width="0.5" stroke-linejoin="round"/>
<polygon points="440.54,382.74 442.34,382.74 441.44,384.34" fill="#000"/>
<line x1="435.21" y1="370.25" x2="437.01" y2="370.25" stroke="#000" stroke-width="0.5" />
<text x="438.77" y="368.94" font-size="4.8" text-anchor="middle" fill="#111" class="st">***</text>
<polyline points="450.25,371.53 450.25,313.46 455.58,313.46 455.58,315.59" fill="none" stroke="#000" stroke-width="0.5" stroke-linejoin="round"/>
<polygon points="454.68,313.99 456.48,313.99 455.58,315.59" fill="#000"/>
<line x1="449.35" y1="371.53" x2="451.15" y2="371.53" stroke="#000" stroke-width="0.5" />
<text x="452.91" y="313.86" font-size="4.8" text-anchor="middle" fill="#111" class="st">***</text>
<polyline points="460.91,368.97 460.91,367.69 466.24,367.69 466.24,392.88" fill="none" stroke="#000" stroke-width="0.5" stroke-linejoin="round"/>
<polygon points="465.34,391.28 467.14,391.28 466.24,392.88" fill="#000"/>
<line x1="460.01" y1="368.97" x2="461.81" y2="368.97" stroke="#000" stroke-width="0.5" />
<text x="463.58" y="368.09" font-size="4.8" text-anchor="middle" fill="#111" class="st">***</text>
<polyline points="475.05,370.68 475.05,347.19 480.38,347.19 480.38,348.47" fill="none" stroke="#000" stroke-width="0.5" stroke-linejoin="round"/>
<polygon points="479.48,346.87 481.28,346.87 480.38,348.47" fill="#000"/>
<line x1="474.15" y1="370.68" x2="475.95" y2="370.68" stroke="#000" stroke-width="0.5" />
<text x="477.71" y="347.59" font-size="4.8" text-anchor="middle" fill="#111" class="st">***</text>
<polyline points="485.71,367.26 485.71,366.62 491.04,366.62 491.04,386.05" fill="none" stroke="#000" stroke-width="0.5" stroke-linejoin="round"/>
<polygon points="490.14,384.45 491.94,384.45 491.04,386.05" fill="#000"/>
<line x1="484.81" y1="367.26" x2="486.61" y2="367.26" stroke="#000" stroke-width="0.5" />
<text x="488.38" y="367.02" font-size="4.8" text-anchor="middle" fill="#111" class="st">***</text>
<rect x="495.90" y="360.00" width="5.30" height="3.60" fill="#3b54a4" stroke="#000" stroke-width="0.5" />
<text x="503.40" y="363.67" font-size="5.2" fill="#000" >LACZ</text>
<rect x="495.90" y="367.10" width="5.30" height="3.60" fill="#ed2024" stroke="#000" stroke-width="0.5" />
<text x="503.40" y="370.77" font-size="5.2" fill="#000" >MYC</text>
<rect x="495.90" y="374.20" width="5.30" height="3.60" fill="#000" stroke="#000" stroke-width="0.5" />
<text x="503.40" y="377.87" font-size="5.2" fill="#000" >scr</text>
<rect x="495.90" y="381.30" width="5.30" height="3.60" fill="#6fbe44" stroke="#000" stroke-width="0.5" />
<text x="503.40" y="384.97" font-size="5.2" fill="#000" >shRNA</text>
</g>
</svg>
</body></html>
